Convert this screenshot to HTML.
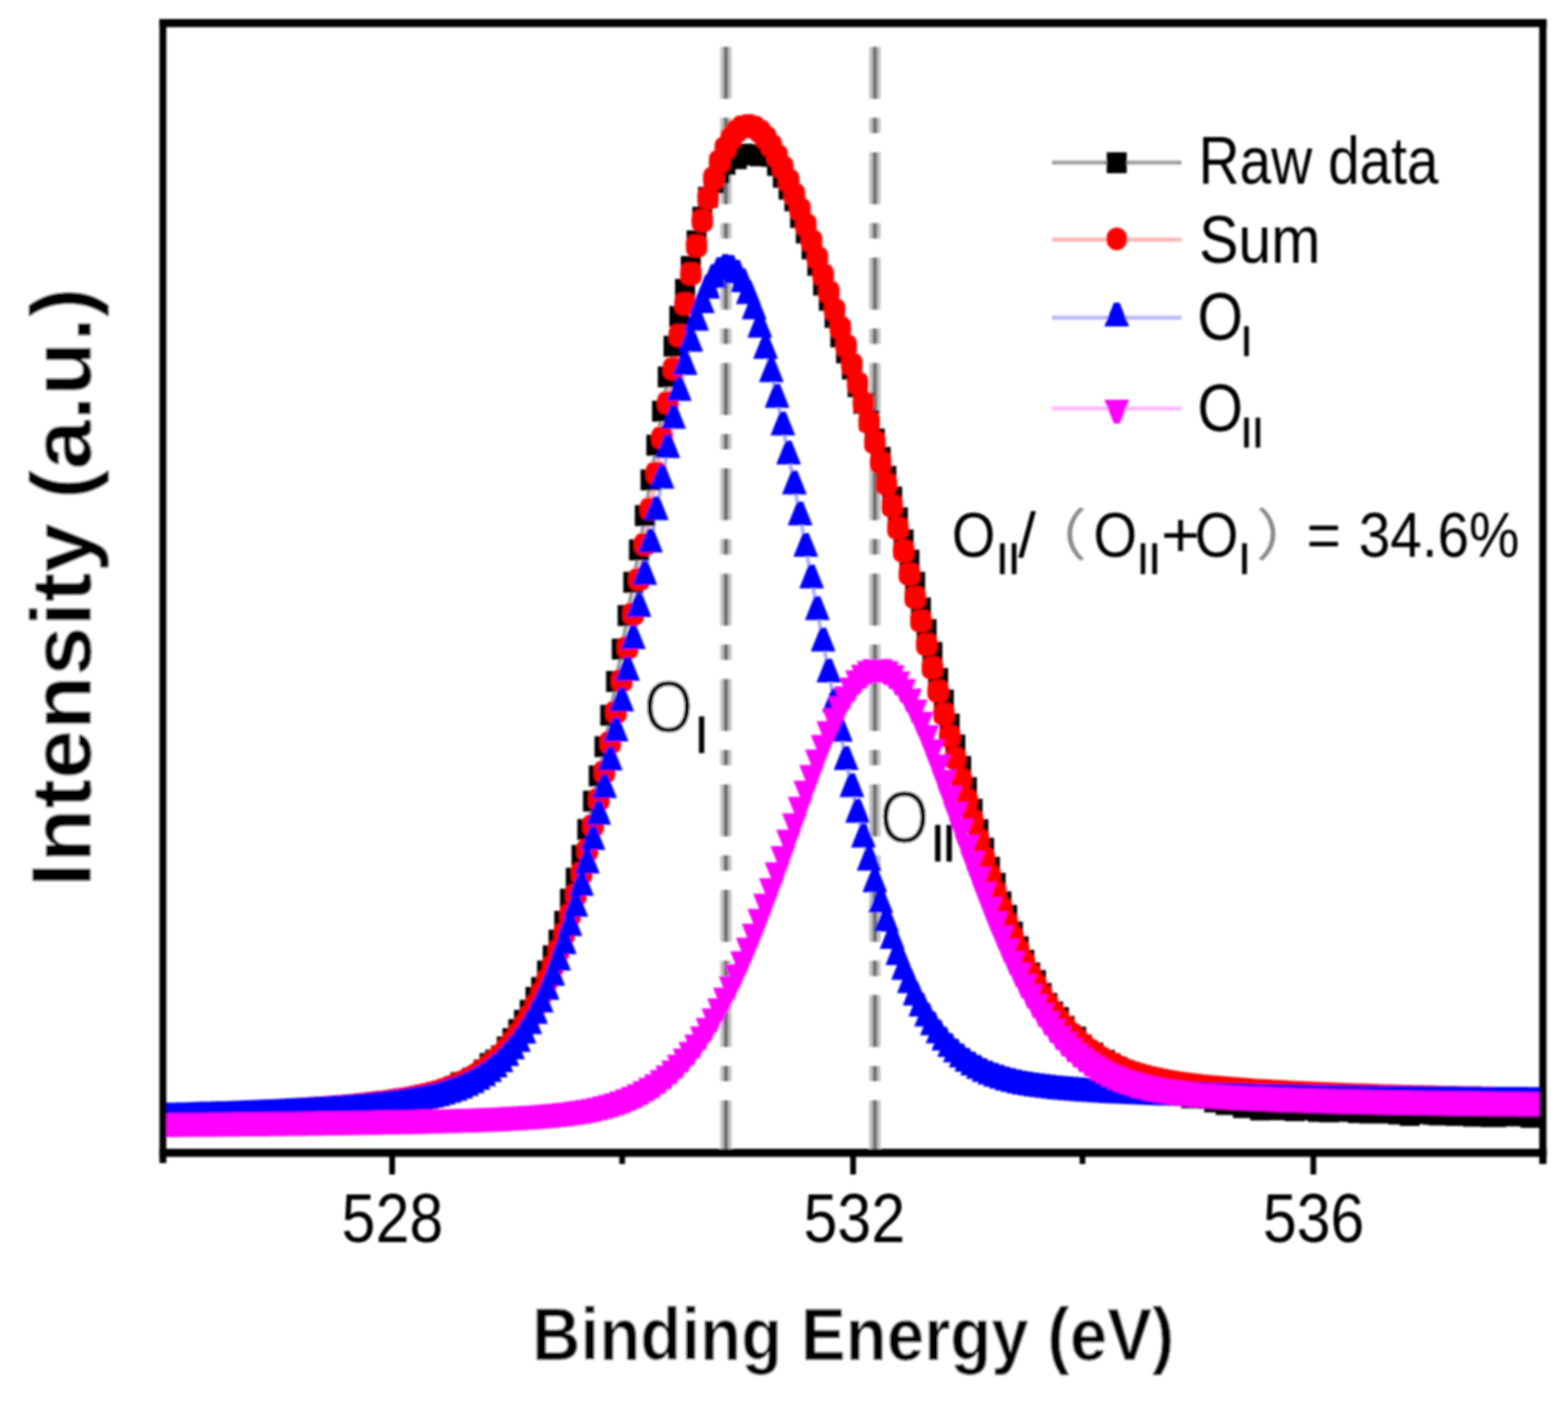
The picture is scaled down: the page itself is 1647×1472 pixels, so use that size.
<!DOCTYPE html><html><head><meta charset="utf-8"><title>XPS O 1s spectrum</title><style>html,body{margin:0;padding:0;background:#fff;overflow:hidden}svg{display:block}</style></head><body>
<svg width="1647" height="1472" viewBox="0 0 1647 1472">
<defs><clipPath id="pa"><rect x="172" y="26" width="1448" height="1184"/></clipPath><filter id="bl" filterUnits="userSpaceOnUse" x="0" y="0" width="1647" height="1472"><feGaussianBlur stdDeviation="1.2"/></filter></defs>
<rect width="1647" height="1472" fill="#fff"/>
<g filter="url(#bl)">
<g clip-path="url(#pa)" fill="none" stroke-dasharray="54.5 20 16 20.2">
<line x1="762.5" y1="49.3" x2="762.5" y2="1215" stroke="#c4c4c4" stroke-width="12"/>
<line x1="762.5" y1="49.3" x2="762.5" y2="1215" stroke="#6e6e6e" stroke-width="4.5"/>
<line x1="919.0" y1="49.3" x2="919.0" y2="1215" stroke="#c4c4c4" stroke-width="12"/>
<line x1="919.0" y1="49.3" x2="919.0" y2="1215" stroke="#6e6e6e" stroke-width="4.5"/>
</g>
<g clip-path="url(#pa)"><g>
<polyline fill="none" stroke="#9a9a9a" stroke-width="4" stroke-linejoin="round" points="145.6,1178.6 151.7,1175.8 157.7,1176.2 163.8,1176.5 169.8,1174.9 175.8,1175.6 181.9,1175.4 187.9,1173.1 194,1176.2 200,1175.5 206,1173.7 212.1,1174.1 218.1,1174.6 224.2,1173.4 230.2,1173.2 236.2,1171.5 242.3,1173.6 248.3,1172.8 254.4,1172.7 260.4,1170.2 266.5,1173.7 272.5,1171.6 278.5,1170.6 284.6,1173.2 290.6,1170.3 296.7,1168.3 302.7,1169.2 308.7,1166.5 314.8,1170.1 320.8,1167.9 326.9,1167.1 332.9,1168.8 339,1165.1 345,1167.2 351,1163.6 357.1,1164.8 363.1,1163.6 369.2,1166.2 375.2,1165.9 381.2,1162.8 387.3,1163.5 393.3,1161.6 399.4,1161.7 405.4,1159.3 411.5,1157.3 417.5,1156.2 423.5,1157.8 429.6,1158.8 435.6,1155.2 441.7,1152.9 447.7,1154.3 453.7,1150.7 459.8,1148.7 465.8,1146.9 471.9,1144.3 477.9,1141.6 483.9,1137.5 490,1136.8 496,1132.7 502.1,1130.4 508.1,1124.2 514.2,1117.4 520.2,1113.8 526.2,1109.6 532.3,1099.9 538.3,1091.2 544.4,1081.8 550.4,1071.9 556.4,1061.6 562.5,1048.1 568.5,1037.5 574.6,1020.3 580.6,1004.2 586.7,987.7 592.7,968 598.7,944.8 604.8,922.7 610.8,898.8 616.9,871.5 622.9,841.8 628.9,815.3 635,784.6 641,751.6 647.1,716.1 653.1,681.9 659.2,646.7 665.2,611.7 671.2,577.8 677.3,541.8 683.3,504.3 689.4,467.8 695.4,432.1 701.4,396 707.5,363.7 713.5,332.5 719.6,304 725.6,280 731.7,253 737.7,228.3 743.7,207.3 749.8,192.2 755.8,181.5 761.9,172.7 767.9,165.7 773.9,166.7 780,162 786,162.8 792.1,162.6 798.1,163.7 804.1,161.5 810.2,164.3 816.2,173.8 822.3,186.3 828.3,198.8 834.4,210.9 840.4,228.4 846.4,244.8 852.5,261.4 858.5,278.8 864.6,299.6 870.6,315.4 876.6,333.4 882.7,354.1 888.7,370.8 894.8,387.8 900.8,406.3 906.9,423.8 912.9,441.9 918.9,461.2 925,480.5 931,500.4 937.1,522.2 943.1,544 949.1,567.3 955.2,588.6 961.2,611.8 967.3,638.7 973.3,661.6 979.4,685.5 985.4,712.7 991.4,735.5 997.5,760.7 1003.5,782.8 1009.6,805.2 1015.6,827.5 1021.6,850.3 1027.7,871.7 1033.7,891.2 1039.8,911.2 1045.8,928.1 1051.9,947.4 1057.9,961.7 1063.9,979.2 1070,994.8 1076,1008.9 1082.1,1022.3 1088.1,1030.2 1094.1,1043.8 1100.2,1054.3 1106.2,1063.2 1112.3,1069.2 1118.3,1078.6 1124.3,1087.4 1130.4,1089.8 1136.4,1098 1142.5,1104 1148.5,1106.4 1154.6,1112.2 1160.6,1114 1166.6,1117.8 1172.7,1120.9 1178.7,1124.9 1184.8,1127.1 1190.8,1131.2 1196.8,1131.8 1202.9,1135.4 1208.9,1139.2 1215,1141.1 1221,1141.1 1227.1,1145.6 1233.1,1146.2 1239.1,1149.1 1245.2,1150.9 1251.2,1153.4 1257.3,1153.4 1263.3,1152.3 1269.3,1154.1 1275.4,1157.8 1281.4,1157.8 1287.5,1160.6 1293.5,1160.6 1299.6,1160.5 1305.6,1163.7 1311.6,1162 1317.7,1160.9 1323.7,1166.2 1329.8,1161.8 1335.8,1165.2 1341.8,1165.9 1347.9,1165.3 1353.9,1163.4 1360,1166.9 1366,1164.3 1372.1,1164.7 1378.1,1166.1 1384.1,1167.8 1390.2,1167.4 1396.2,1168.3 1402.3,1167 1408.3,1167.6 1414.3,1166.6 1420.4,1167.8 1426.4,1169.1 1432.5,1168.3 1438.5,1169.4 1444.5,1168.3 1450.6,1168.5 1456.6,1169.4 1462.7,1169.3 1468.7,1170.4 1474.8,1170.1 1480.8,1172.1 1486.8,1169.9 1492.9,1170.1 1498.9,1169.2 1505,1170.7 1511,1171.6 1517,1170 1523.1,1171 1529.1,1172 1535.2,1171.1 1541.2,1170.8 1547.3,1172.7 1553.3,1171.7 1559.3,1172.2 1565.4,1173.3 1571.4,1173.3 1577.5,1171.6 1583.5,1171.5 1589.5,1172.6 1595.6,1172.2 1601.6,1170.2 1607.7,1174.1 1613.7,1172.6 1619.8,1173.6 1625.8,1171.4 1631.8,1174.4 1637.9,1172.3 1643.9,1172.9"/>
<polyline fill="none" stroke="#ffb0b0" stroke-width="4" stroke-linejoin="round" points="145.6,1172.7 151.7,1172.5 157.7,1172.4 163.8,1172.2 169.8,1172 175.8,1171.8 181.9,1171.6 187.9,1171.4 194,1171.2 200,1171 206,1170.8 212.1,1170.6 218.1,1170.4 224.2,1170.1 230.2,1169.9 236.2,1169.7 242.3,1169.4 248.3,1169.1 254.4,1168.9 260.4,1168.6 266.5,1168.3 272.5,1168 278.5,1167.7 284.6,1167.4 290.6,1167 296.7,1166.7 302.7,1166.3 308.7,1166 314.8,1165.6 320.8,1165.2 326.9,1164.8 332.9,1164.3 339,1163.9 345,1163.4 351,1162.9 357.1,1162.4 363.1,1161.9 369.2,1161.4 375.2,1160.8 381.2,1160.2 387.3,1159.5 393.3,1158.8 399.4,1158.1 405.4,1157.4 411.5,1156.5 417.5,1155.6 423.5,1154.7 429.6,1153.7 435.6,1152.6 441.7,1151.3 447.7,1150 453.7,1148.5 459.8,1146.9 465.8,1145.1 471.9,1143.1 477.9,1140.8 483.9,1138.3 490,1135.4 496,1132.2 502.1,1128.6 508.1,1124.5 514.2,1120 520.2,1114.8 526.2,1109 532.3,1102.5 538.3,1095.3 544.4,1087.1 550.4,1078 556.4,1067.9 562.5,1056.6 568.5,1044.2 574.6,1030.5 580.6,1015.4 586.7,999 592.7,981 598.7,961.5 604.8,940.4 610.8,917.7 616.9,893.4 622.9,867.5 628.9,840 635,810.9 641,780.3 647.1,748.3 653.1,715 659.2,680.6 665.2,645.1 671.2,608.8 677.3,571.9 683.3,534.7 689.4,497.3 695.4,460.1 701.4,423.3 707.5,387.4 713.5,352.6 719.6,319.3 725.6,287.8 731.7,258.6 737.7,231.9 743.7,208 749.8,187.2 755.8,169.7 761.9,155.7 767.9,145 773.9,137.6 780,133.3 786,132.1 792.1,133.7 798.1,137.9 804.1,144.5 810.2,153.3 816.2,163.9 822.3,176.1 828.3,189.7 834.4,204.4 840.4,220 846.4,236.5 852.5,253.5 858.5,271 864.6,288.9 870.6,307.1 876.6,325.7 882.7,344.5 888.7,363.6 894.8,383.1 900.8,402.9 906.9,423.2 912.9,443.8 918.9,464.9 925,486.6 931,508.8 937.1,531.7 943.1,555.1 949.1,579 955.2,603.3 961.2,627.8 967.3,652.5 973.3,677.2 979.4,701.8 985.4,726.2 991.4,750.2 997.5,773.8 1003.5,796.9 1009.6,819.3 1015.6,841.1 1021.6,862.2 1027.7,882.5 1033.7,901.9 1039.8,920.4 1045.8,938.1 1051.9,954.8 1057.9,970.6 1063.9,985.4 1070,999.3 1076,1012.3 1082.1,1024.4 1088.1,1035.6 1094.1,1045.9 1100.2,1055.5 1106.2,1064.2 1112.3,1072.2 1118.3,1079.5 1124.3,1086.1 1130.4,1092.1 1136.4,1097.5 1142.5,1102.4 1148.5,1106.8 1154.6,1110.8 1160.6,1114.4 1166.6,1117.5 1172.7,1120.4 1178.7,1123 1184.8,1125.2 1190.8,1127.3 1196.8,1129.1 1202.9,1130.8 1208.9,1132.3 1215,1133.6 1221,1134.8 1227.1,1136 1233.1,1137 1239.1,1137.9 1245.2,1138.7 1251.2,1139.5 1257.3,1140.2 1263.3,1140.9 1269.3,1141.5 1275.4,1142.1 1281.4,1142.6 1287.5,1143.1 1293.5,1143.6 1299.6,1144.1 1305.6,1144.5 1311.6,1145 1317.7,1145.4 1323.7,1145.7 1329.8,1146.1 1335.8,1146.5 1341.8,1146.8 1347.9,1147.1 1353.9,1147.4 1360,1147.7 1366,1148 1372.1,1148.3 1378.1,1148.6 1384.1,1148.8 1390.2,1149.1 1396.2,1149.3 1402.3,1149.6 1408.3,1149.8 1414.3,1150 1420.4,1150.2 1426.4,1150.4 1432.5,1150.6 1438.5,1150.8 1444.5,1151 1450.6,1151.2 1456.6,1151.4 1462.7,1151.5 1468.7,1151.7 1474.8,1151.9 1480.8,1152 1486.8,1152.2 1492.9,1152.3 1498.9,1152.5 1505,1152.6 1511,1152.8 1517,1152.9 1523.1,1153 1529.1,1153.2 1535.2,1153.3 1541.2,1153.4 1547.3,1153.5 1553.3,1153.6 1559.3,1153.7 1565.4,1153.8 1571.4,1154 1577.5,1154.1 1583.5,1154.2 1589.5,1154.3 1595.6,1154.4 1601.6,1154.4 1607.7,1154.5 1613.7,1154.6 1619.8,1154.7 1625.8,1154.8 1631.8,1154.9 1637.9,1155 1643.9,1155"/>
<polyline fill="none" stroke="#b0b0ff" stroke-width="4" stroke-linejoin="round" points="145.6,1174.8 151.7,1174.7 157.7,1174.6 163.8,1174.4 169.8,1174.3 175.8,1174.1 181.9,1174 187.9,1173.8 194,1173.7 200,1173.5 206,1173.3 212.1,1173.1 218.1,1173 224.2,1172.8 230.2,1172.6 236.2,1172.4 242.3,1172.2 248.3,1171.9 254.4,1171.7 260.4,1171.5 266.5,1171.2 272.5,1171 278.5,1170.7 284.6,1170.5 290.6,1170.2 296.7,1169.9 302.7,1169.6 308.7,1169.3 314.8,1169 320.8,1168.7 326.9,1168.3 332.9,1168 339,1167.6 345,1167.2 351,1166.8 357.1,1166.4 363.1,1165.9 369.2,1165.5 375.2,1165 381.2,1164.5 387.3,1163.9 393.3,1163.3 399.4,1162.7 405.4,1162 411.5,1161.3 417.5,1160.5 423.5,1159.7 429.6,1158.8 435.6,1157.8 441.7,1156.7 447.7,1155.5 453.7,1154.2 459.8,1152.7 465.8,1151 471.9,1149.1 477.9,1147 483.9,1144.7 490,1142 496,1139 502.1,1135.6 508.1,1131.7 514.2,1127.3 520.2,1122.4 526.2,1116.9 532.3,1110.6 538.3,1103.6 544.4,1095.7 550.4,1086.9 556.4,1077.1 562.5,1066.2 568.5,1054.2 574.6,1040.9 580.6,1026.3 586.7,1010.3 592.7,992.9 598.7,974 604.8,953.7 610.8,931.7 616.9,908.3 622.9,883.4 628.9,857 635,829.1 641,800 647.1,769.6 653.1,738.1 659.2,705.7 665.2,672.5 671.2,638.8 677.3,604.9 683.3,570.9 689.4,537.1 695.4,504 701.4,471.8 707.5,440.9 713.5,411.7 719.6,384.6 725.6,359.9 731.7,338.1 737.7,319.4 743.7,304.3 749.8,293 755.8,285.7 761.9,282.6 767.9,283.6 773.9,288.6 780,297.4 786,310 792.1,326 798.1,345.2 804.1,367.4 810.2,392.1 816.2,419.1 822.3,448 828.3,478.4 834.4,510 840.4,542.5 846.4,575.5 852.5,608.8 858.5,642 864.6,674.9 870.6,707.4 876.6,739 882.7,769.8 888.7,799.5 894.8,828 900.8,855.1 906.9,880.9 912.9,905.3 918.9,928.1 925,949.4 931,969.3 937.1,987.6 943.1,1004.5 949.1,1020 955.2,1034.1 961.2,1046.9 967.3,1058.5 973.3,1069 979.4,1078.3 985.4,1086.7 991.4,1094.2 997.5,1100.9 1003.5,1106.7 1009.6,1111.9 1015.6,1116.5 1021.6,1120.6 1027.7,1124.1 1033.7,1127.2 1039.8,1129.9 1045.8,1132.3 1051.9,1134.3 1057.9,1136.2 1063.9,1137.8 1070,1139.2 1076,1140.4 1082.1,1141.5 1088.1,1142.5 1094.1,1143.3 1100.2,1144.1 1106.2,1144.8 1112.3,1145.5 1118.3,1146 1124.3,1146.6 1130.4,1147.1 1136.4,1147.5 1142.5,1147.9 1148.5,1148.3 1154.6,1148.7 1160.6,1149 1166.6,1149.4 1172.7,1149.7 1178.7,1150 1184.8,1150.3 1190.8,1150.5 1196.8,1150.8 1202.9,1151 1208.9,1151.3 1215,1151.5 1221,1151.7 1227.1,1151.9 1233.1,1152.1 1239.1,1152.3 1245.2,1152.5 1251.2,1152.7 1257.3,1152.9 1263.3,1153.1 1269.3,1153.2 1275.4,1153.4 1281.4,1153.5 1287.5,1153.7 1293.5,1153.8 1299.6,1154 1305.6,1154.1 1311.6,1154.2 1317.7,1154.4 1323.7,1154.5 1329.8,1154.6 1335.8,1154.7 1341.8,1154.8 1347.9,1154.9 1353.9,1155 1360,1155.1 1366,1155.2 1372.1,1155.3 1378.1,1155.4 1384.1,1155.5 1390.2,1155.6 1396.2,1155.7 1402.3,1155.8 1408.3,1155.9 1414.3,1155.9 1420.4,1156 1426.4,1156.1 1432.5,1156.2 1438.5,1156.2 1444.5,1156.3 1450.6,1156.4 1456.6,1156.4 1462.7,1156.5 1468.7,1156.6 1474.8,1156.6 1480.8,1156.7 1486.8,1156.8 1492.9,1156.8 1498.9,1156.9 1505,1156.9 1511,1157 1517,1157 1523.1,1157.1 1529.1,1157.1 1535.2,1157.2 1541.2,1157.2 1547.3,1157.3 1553.3,1157.3 1559.3,1157.4 1565.4,1157.4 1571.4,1157.4 1577.5,1157.5 1583.5,1157.5 1589.5,1157.6 1595.6,1157.6 1601.6,1157.6 1607.7,1157.7 1613.7,1157.7 1619.8,1157.7 1625.8,1157.8 1631.8,1157.8 1637.9,1157.8 1643.9,1157.9"/>
<polyline fill="none" stroke="#ffb0ff" stroke-width="4" stroke-linejoin="round" points="145.6,1179.4 151.7,1179.4 157.7,1179.4 163.8,1179.3 169.8,1179.3 175.8,1179.2 181.9,1179.2 187.9,1179.2 194,1179.1 200,1179.1 206,1179 212.1,1179 218.1,1178.9 224.2,1178.9 230.2,1178.8 236.2,1178.8 242.3,1178.7 248.3,1178.7 254.4,1178.6 260.4,1178.6 266.5,1178.5 272.5,1178.5 278.5,1178.4 284.6,1178.3 290.6,1178.3 296.7,1178.2 302.7,1178.1 308.7,1178.1 314.8,1178 320.8,1177.9 326.9,1177.8 332.9,1177.8 339,1177.7 345,1177.6 351,1177.5 357.1,1177.4 363.1,1177.3 369.2,1177.3 375.2,1177.2 381.2,1177.1 387.3,1177 393.3,1176.9 399.4,1176.8 405.4,1176.6 411.5,1176.5 417.5,1176.4 423.5,1176.3 429.6,1176.2 435.6,1176 441.7,1175.9 447.7,1175.7 453.7,1175.6 459.8,1175.4 465.8,1175.3 471.9,1175.1 477.9,1174.9 483.9,1174.8 490,1174.6 496,1174.4 502.1,1174.2 508.1,1173.9 514.2,1173.7 520.2,1173.5 526.2,1173.2 532.3,1172.9 538.3,1172.6 544.4,1172.3 550.4,1172 556.4,1171.6 562.5,1171.2 568.5,1170.8 574.6,1170.3 580.6,1169.8 586.7,1169.2 592.7,1168.6 598.7,1167.9 604.8,1167.1 610.8,1166.2 616.9,1165.3 622.9,1164.2 628.9,1162.9 635,1161.5 641,1160 647.1,1158.2 653.1,1156.3 659.2,1154 665.2,1151.5 671.2,1148.7 677.3,1145.6 683.3,1142.1 689.4,1138.2 695.4,1133.8 701.4,1129 707.5,1123.7 713.5,1117.8 719.6,1111.3 725.6,1104.2 731.7,1096.5 737.7,1088 743.7,1078.9 749.8,1069.1 755.8,1058.5 761.9,1047.2 767.9,1035.1 773.9,1022.4 780,1008.9 786,994.7 792.1,979.9 798.1,964.5 804.1,948.6 810.2,932.2 816.2,915.4 822.3,898.4 828.3,881.2 834.4,863.9 840.4,846.7 846.4,829.8 852.5,813.2 858.5,797.1 864.6,781.8 870.6,767.3 876.6,753.8 882.7,741.6 888.7,730.8 894.8,721.4 900.8,713.8 906.9,708 912.9,704 918.9,702 925,702.1 931,704.3 937.1,708.6 943.1,714.9 949.1,723.1 955.2,733 961.2,744.5 967.3,757.4 973.3,771.4 979.4,786.5 985.4,802.3 991.4,818.6 997.5,835.5 1003.5,852.5 1009.6,869.7 1015.6,886.8 1021.6,903.7 1027.7,920.3 1033.7,936.5 1039.8,952.3 1045.8,967.4 1051.9,982 1057.9,995.9 1063.9,1009.1 1070,1021.5 1076,1033.2 1082.1,1044.1 1088.1,1054.3 1094.1,1063.7 1100.2,1072.4 1106.2,1080.4 1112.3,1087.8 1118.3,1094.4 1124.3,1100.5 1130.4,1106 1136.4,1110.9 1142.5,1115.4 1148.5,1119.4 1154.6,1123 1160.6,1126.2 1166.6,1129 1172.7,1131.5 1178.7,1133.8 1184.8,1135.8 1190.8,1137.5 1196.8,1139.1 1202.9,1140.5 1208.9,1141.8 1215,1142.9 1221,1143.8 1227.1,1144.7 1233.1,1145.5 1239.1,1146.2 1245.2,1146.9 1251.2,1147.5 1257.3,1148 1263.3,1148.5 1269.3,1148.9 1275.4,1149.3 1281.4,1149.7 1287.5,1150.1 1293.5,1150.4 1299.6,1150.7 1305.6,1151 1311.6,1151.3 1317.7,1151.6 1323.7,1151.8 1329.8,1152.1 1335.8,1152.3 1341.8,1152.5 1347.9,1152.7 1353.9,1152.9 1360,1153.1 1366,1153.3 1372.1,1153.5 1378.1,1153.7 1384.1,1153.8 1390.2,1154 1396.2,1154.2 1402.3,1154.3 1408.3,1154.4 1414.3,1154.6 1420.4,1154.7 1426.4,1154.8 1432.5,1155 1438.5,1155.1 1444.5,1155.2 1450.6,1155.3 1456.6,1155.4 1462.7,1155.5 1468.7,1155.6 1474.8,1155.7 1480.8,1155.8 1486.8,1155.9 1492.9,1156 1498.9,1156.1 1505,1156.2 1511,1156.3 1517,1156.3 1523.1,1156.4 1529.1,1156.5 1535.2,1156.6 1541.2,1156.6 1547.3,1156.7 1553.3,1156.8 1559.3,1156.8 1565.4,1156.9 1571.4,1157 1577.5,1157 1583.5,1157.1 1589.5,1157.1 1595.6,1157.2 1601.6,1157.2 1607.7,1157.3 1613.7,1157.3 1619.8,1157.4 1625.8,1157.4 1631.8,1157.5 1637.9,1157.5 1643.9,1157.6"/>
<path fill="#000" d="M135.1 1167.6h21v22h-21zM141.2 1164.8h21v22h-21zM147.2 1165.2h21v22h-21zM153.3 1165.5h21v22h-21zM159.3 1163.9h21v22h-21zM165.3 1164.6h21v22h-21zM171.4 1164.4h21v22h-21zM177.4 1162.1h21v22h-21zM183.5 1165.2h21v22h-21zM189.5 1164.5h21v22h-21zM195.5 1162.7h21v22h-21zM201.6 1163.1h21v22h-21zM207.6 1163.6h21v22h-21zM213.7 1162.4h21v22h-21zM219.7 1162.2h21v22h-21zM225.7 1160.5h21v22h-21zM231.8 1162.6h21v22h-21zM237.8 1161.8h21v22h-21zM243.9 1161.7h21v22h-21zM249.9 1159.2h21v22h-21zM256 1162.7h21v22h-21zM262 1160.6h21v22h-21zM268 1159.6h21v22h-21zM274.1 1162.2h21v22h-21zM280.1 1159.3h21v22h-21zM286.2 1157.3h21v22h-21zM292.2 1158.2h21v22h-21zM298.2 1155.5h21v22h-21zM304.3 1159.1h21v22h-21zM310.3 1156.9h21v22h-21zM316.4 1156.1h21v22h-21zM322.4 1157.8h21v22h-21zM328.5 1154.1h21v22h-21zM334.5 1156.2h21v22h-21zM340.5 1152.6h21v22h-21zM346.6 1153.8h21v22h-21zM352.6 1152.6h21v22h-21zM358.7 1155.2h21v22h-21zM364.7 1154.9h21v22h-21zM370.7 1151.8h21v22h-21zM376.8 1152.5h21v22h-21zM382.8 1150.6h21v22h-21zM388.9 1150.7h21v22h-21zM394.9 1148.3h21v22h-21zM401 1146.3h21v22h-21zM407 1145.2h21v22h-21zM413 1146.8h21v22h-21zM419.1 1147.8h21v22h-21zM425.1 1144.2h21v22h-21zM431.2 1141.9h21v22h-21zM437.2 1143.3h21v22h-21zM443.2 1139.7h21v22h-21zM449.3 1137.7h21v22h-21zM455.3 1135.9h21v22h-21zM461.4 1133.3h21v22h-21zM467.4 1130.6h21v22h-21zM473.4 1126.5h21v22h-21zM479.5 1125.8h21v22h-21zM485.5 1121.7h21v22h-21zM491.6 1119.4h21v22h-21zM497.6 1113.2h21v22h-21zM503.7 1106.4h21v22h-21zM509.7 1102.8h21v22h-21zM515.7 1098.6h21v22h-21zM521.8 1088.9h21v22h-21zM527.8 1080.2h21v22h-21zM533.9 1070.8h21v22h-21zM539.9 1060.9h21v22h-21zM545.9 1050.6h21v22h-21zM552 1037.1h21v22h-21zM558 1026.5h21v22h-21zM564.1 1009.3h21v22h-21zM570.1 993.2h21v22h-21zM576.2 976.7h21v22h-21zM582.2 957h21v22h-21zM588.2 933.8h21v22h-21zM594.3 911.7h21v22h-21zM600.3 887.8h21v22h-21zM606.4 860.5h21v22h-21zM612.4 830.8h21v22h-21zM618.4 804.3h21v22h-21zM624.5 773.6h21v22h-21zM630.5 740.6h21v22h-21zM636.6 705.1h21v22h-21zM642.6 670.9h21v22h-21zM648.7 635.7h21v22h-21zM654.7 600.7h21v22h-21zM660.7 566.8h21v22h-21zM666.8 530.8h21v22h-21zM672.8 493.3h21v22h-21zM678.9 456.8h21v22h-21zM684.9 421.1h21v22h-21zM690.9 385h21v22h-21zM697 352.7h21v22h-21zM703 321.5h21v22h-21zM709.1 293h21v22h-21zM715.1 269h21v22h-21zM721.2 242h21v22h-21zM727.2 217.3h21v22h-21zM733.2 196.3h21v22h-21zM739.3 181.2h21v22h-21zM745.3 170.5h21v22h-21zM751.4 161.7h21v22h-21zM757.4 154.7h21v22h-21zM763.4 155.7h21v22h-21zM769.5 151h21v22h-21zM775.5 151.8h21v22h-21zM781.6 151.6h21v22h-21zM787.6 152.7h21v22h-21zM793.6 150.5h21v22h-21zM799.7 153.3h21v22h-21zM805.7 162.8h21v22h-21zM811.8 175.3h21v22h-21zM817.8 187.8h21v22h-21zM823.9 199.9h21v22h-21zM829.9 217.4h21v22h-21zM835.9 233.8h21v22h-21zM842 250.4h21v22h-21zM848 267.8h21v22h-21zM854.1 288.6h21v22h-21zM860.1 304.4h21v22h-21zM866.1 322.4h21v22h-21zM872.2 343.1h21v22h-21zM878.2 359.8h21v22h-21zM884.3 376.8h21v22h-21zM890.3 395.3h21v22h-21zM896.4 412.8h21v22h-21zM902.4 430.9h21v22h-21zM908.4 450.2h21v22h-21zM914.5 469.5h21v22h-21zM920.5 489.4h21v22h-21zM926.6 511.2h21v22h-21zM932.6 533h21v22h-21zM938.6 556.3h21v22h-21zM944.7 577.6h21v22h-21zM950.7 600.8h21v22h-21zM956.8 627.7h21v22h-21zM962.8 650.6h21v22h-21zM968.9 674.5h21v22h-21zM974.9 701.7h21v22h-21zM980.9 724.5h21v22h-21zM987 749.7h21v22h-21zM993 771.8h21v22h-21zM999.1 794.2h21v22h-21zM1005.1 816.5h21v22h-21zM1011.1 839.3h21v22h-21zM1017.2 860.7h21v22h-21zM1023.2 880.2h21v22h-21zM1029.3 900.2h21v22h-21zM1035.3 917.1h21v22h-21zM1041.4 936.4h21v22h-21zM1047.4 950.7h21v22h-21zM1053.4 968.2h21v22h-21zM1059.5 983.8h21v22h-21zM1065.5 997.9h21v22h-21zM1071.6 1011.3h21v22h-21zM1077.6 1019.2h21v22h-21zM1083.6 1032.8h21v22h-21zM1089.7 1043.3h21v22h-21zM1095.7 1052.2h21v22h-21zM1101.8 1058.2h21v22h-21zM1107.8 1067.6h21v22h-21zM1113.8 1076.4h21v22h-21zM1119.9 1078.8h21v22h-21zM1125.9 1087h21v22h-21zM1132 1093h21v22h-21zM1138 1095.4h21v22h-21zM1144.1 1101.2h21v22h-21zM1150.1 1103h21v22h-21zM1156.1 1106.8h21v22h-21zM1162.2 1109.9h21v22h-21zM1168.2 1113.9h21v22h-21zM1174.3 1116.1h21v22h-21zM1180.3 1120.2h21v22h-21zM1186.3 1120.8h21v22h-21zM1192.4 1124.4h21v22h-21zM1198.4 1128.2h21v22h-21zM1204.5 1130.1h21v22h-21zM1210.5 1130.1h21v22h-21zM1216.6 1134.6h21v22h-21zM1222.6 1135.2h21v22h-21zM1228.6 1138.1h21v22h-21zM1234.7 1139.9h21v22h-21zM1240.7 1142.4h21v22h-21zM1246.8 1142.4h21v22h-21zM1252.8 1141.3h21v22h-21zM1258.8 1143.1h21v22h-21zM1264.9 1146.8h21v22h-21zM1270.9 1146.8h21v22h-21zM1277 1149.6h21v22h-21zM1283 1149.6h21v22h-21zM1289.1 1149.5h21v22h-21zM1295.1 1152.7h21v22h-21zM1301.1 1151h21v22h-21zM1307.2 1149.9h21v22h-21zM1313.2 1155.2h21v22h-21zM1319.3 1150.8h21v22h-21zM1325.3 1154.2h21v22h-21zM1331.3 1154.9h21v22h-21zM1337.4 1154.3h21v22h-21zM1343.4 1152.4h21v22h-21zM1349.5 1155.9h21v22h-21zM1355.5 1153.3h21v22h-21zM1361.6 1153.7h21v22h-21zM1367.6 1155.1h21v22h-21zM1373.6 1156.8h21v22h-21zM1379.7 1156.4h21v22h-21zM1385.7 1157.3h21v22h-21zM1391.8 1156h21v22h-21zM1397.8 1156.6h21v22h-21zM1403.8 1155.6h21v22h-21zM1409.9 1156.8h21v22h-21zM1415.9 1158.1h21v22h-21zM1422 1157.3h21v22h-21zM1428 1158.4h21v22h-21zM1434 1157.3h21v22h-21zM1440.1 1157.5h21v22h-21zM1446.1 1158.4h21v22h-21zM1452.2 1158.3h21v22h-21zM1458.2 1159.4h21v22h-21zM1464.3 1159.1h21v22h-21zM1470.3 1161.1h21v22h-21zM1476.3 1158.9h21v22h-21zM1482.4 1159.1h21v22h-21zM1488.4 1158.2h21v22h-21zM1494.5 1159.7h21v22h-21zM1500.5 1160.6h21v22h-21zM1506.5 1159h21v22h-21zM1512.6 1160h21v22h-21zM1518.6 1161h21v22h-21zM1524.7 1160.1h21v22h-21zM1530.7 1159.8h21v22h-21zM1536.8 1161.7h21v22h-21zM1542.8 1160.7h21v22h-21zM1548.8 1161.2h21v22h-21zM1554.9 1162.3h21v22h-21zM1560.9 1162.3h21v22h-21zM1567 1160.6h21v22h-21zM1573 1160.5h21v22h-21zM1579 1161.6h21v22h-21zM1585.1 1161.2h21v22h-21zM1591.1 1159.2h21v22h-21zM1597.2 1163.1h21v22h-21zM1603.2 1161.6h21v22h-21zM1609.3 1162.6h21v22h-21zM1615.3 1160.4h21v22h-21zM1621.3 1163.4h21v22h-21zM1627.4 1161.3h21v22h-21zM1633.4 1161.9h21v22h-21z"/>
<path fill="#f00" d="M142.9 1160.7h5.5a8.5 8.5 0 0 1 8.5 8.5v7a8.5 8.5 0 0 1 -8.5 8.5h-5.5a8.5 8.5 0 0 1 -8.5 -8.5v-7a8.5 8.5 0 0 1 8.5 -8.5zM148.9 1160.5h5.5a8.5 8.5 0 0 1 8.5 8.5v7a8.5 8.5 0 0 1 -8.5 8.5h-5.5a8.5 8.5 0 0 1 -8.5 -8.5v-7a8.5 8.5 0 0 1 8.5 -8.5zM155 1160.4h5.5a8.5 8.5 0 0 1 8.5 8.5v7a8.5 8.5 0 0 1 -8.5 8.5h-5.5a8.5 8.5 0 0 1 -8.5 -8.5v-7a8.5 8.5 0 0 1 8.5 -8.5zM161 1160.2h5.5a8.5 8.5 0 0 1 8.5 8.5v7a8.5 8.5 0 0 1 -8.5 8.5h-5.5a8.5 8.5 0 0 1 -8.5 -8.5v-7a8.5 8.5 0 0 1 8.5 -8.5zM167 1160h5.5a8.5 8.5 0 0 1 8.5 8.5v7a8.5 8.5 0 0 1 -8.5 8.5h-5.5a8.5 8.5 0 0 1 -8.5 -8.5v-7a8.5 8.5 0 0 1 8.5 -8.5zM173.1 1159.8h5.5a8.5 8.5 0 0 1 8.5 8.5v7a8.5 8.5 0 0 1 -8.5 8.5h-5.5a8.5 8.5 0 0 1 -8.5 -8.5v-7a8.5 8.5 0 0 1 8.5 -8.5zM179.1 1159.6h5.5a8.5 8.5 0 0 1 8.5 8.5v7a8.5 8.5 0 0 1 -8.5 8.5h-5.5a8.5 8.5 0 0 1 -8.5 -8.5v-7a8.5 8.5 0 0 1 8.5 -8.5zM185.2 1159.4h5.5a8.5 8.5 0 0 1 8.5 8.5v7a8.5 8.5 0 0 1 -8.5 8.5h-5.5a8.5 8.5 0 0 1 -8.5 -8.5v-7a8.5 8.5 0 0 1 8.5 -8.5zM191.2 1159.2h5.5a8.5 8.5 0 0 1 8.5 8.5v7a8.5 8.5 0 0 1 -8.5 8.5h-5.5a8.5 8.5 0 0 1 -8.5 -8.5v-7a8.5 8.5 0 0 1 8.5 -8.5zM197.2 1159h5.5a8.5 8.5 0 0 1 8.5 8.5v7a8.5 8.5 0 0 1 -8.5 8.5h-5.5a8.5 8.5 0 0 1 -8.5 -8.5v-7a8.5 8.5 0 0 1 8.5 -8.5zM203.3 1158.8h5.5a8.5 8.5 0 0 1 8.5 8.5v7a8.5 8.5 0 0 1 -8.5 8.5h-5.5a8.5 8.5 0 0 1 -8.5 -8.5v-7a8.5 8.5 0 0 1 8.5 -8.5zM209.3 1158.6h5.5a8.5 8.5 0 0 1 8.5 8.5v7a8.5 8.5 0 0 1 -8.5 8.5h-5.5a8.5 8.5 0 0 1 -8.5 -8.5v-7a8.5 8.5 0 0 1 8.5 -8.5zM215.4 1158.4h5.5a8.5 8.5 0 0 1 8.5 8.5v7a8.5 8.5 0 0 1 -8.5 8.5h-5.5a8.5 8.5 0 0 1 -8.5 -8.5v-7a8.5 8.5 0 0 1 8.5 -8.5zM221.4 1158.1h5.5a8.5 8.5 0 0 1 8.5 8.5v7a8.5 8.5 0 0 1 -8.5 8.5h-5.5a8.5 8.5 0 0 1 -8.5 -8.5v-7a8.5 8.5 0 0 1 8.5 -8.5zM227.5 1157.9h5.5a8.5 8.5 0 0 1 8.5 8.5v7a8.5 8.5 0 0 1 -8.5 8.5h-5.5a8.5 8.5 0 0 1 -8.5 -8.5v-7a8.5 8.5 0 0 1 8.5 -8.5zM233.5 1157.7h5.5a8.5 8.5 0 0 1 8.5 8.5v7a8.5 8.5 0 0 1 -8.5 8.5h-5.5a8.5 8.5 0 0 1 -8.5 -8.5v-7a8.5 8.5 0 0 1 8.5 -8.5zM239.5 1157.4h5.5a8.5 8.5 0 0 1 8.5 8.5v7a8.5 8.5 0 0 1 -8.5 8.5h-5.5a8.5 8.5 0 0 1 -8.5 -8.5v-7a8.5 8.5 0 0 1 8.5 -8.5zM245.6 1157.1h5.5a8.5 8.5 0 0 1 8.5 8.5v7a8.5 8.5 0 0 1 -8.5 8.5h-5.5a8.5 8.5 0 0 1 -8.5 -8.5v-7a8.5 8.5 0 0 1 8.5 -8.5zM251.6 1156.9h5.5a8.5 8.5 0 0 1 8.5 8.5v7a8.5 8.5 0 0 1 -8.5 8.5h-5.5a8.5 8.5 0 0 1 -8.5 -8.5v-7a8.5 8.5 0 0 1 8.5 -8.5zM257.7 1156.6h5.5a8.5 8.5 0 0 1 8.5 8.5v7a8.5 8.5 0 0 1 -8.5 8.5h-5.5a8.5 8.5 0 0 1 -8.5 -8.5v-7a8.5 8.5 0 0 1 8.5 -8.5zM263.7 1156.3h5.5a8.5 8.5 0 0 1 8.5 8.5v7a8.5 8.5 0 0 1 -8.5 8.5h-5.5a8.5 8.5 0 0 1 -8.5 -8.5v-7a8.5 8.5 0 0 1 8.5 -8.5zM269.7 1156h5.5a8.5 8.5 0 0 1 8.5 8.5v7a8.5 8.5 0 0 1 -8.5 8.5h-5.5a8.5 8.5 0 0 1 -8.5 -8.5v-7a8.5 8.5 0 0 1 8.5 -8.5zM275.8 1155.7h5.5a8.5 8.5 0 0 1 8.5 8.5v7a8.5 8.5 0 0 1 -8.5 8.5h-5.5a8.5 8.5 0 0 1 -8.5 -8.5v-7a8.5 8.5 0 0 1 8.5 -8.5zM281.8 1155.4h5.5a8.5 8.5 0 0 1 8.5 8.5v7a8.5 8.5 0 0 1 -8.5 8.5h-5.5a8.5 8.5 0 0 1 -8.5 -8.5v-7a8.5 8.5 0 0 1 8.5 -8.5zM287.9 1155h5.5a8.5 8.5 0 0 1 8.5 8.5v7a8.5 8.5 0 0 1 -8.5 8.5h-5.5a8.5 8.5 0 0 1 -8.5 -8.5v-7a8.5 8.5 0 0 1 8.5 -8.5zM293.9 1154.7h5.5a8.5 8.5 0 0 1 8.5 8.5v7a8.5 8.5 0 0 1 -8.5 8.5h-5.5a8.5 8.5 0 0 1 -8.5 -8.5v-7a8.5 8.5 0 0 1 8.5 -8.5zM300 1154.3h5.5a8.5 8.5 0 0 1 8.5 8.5v7a8.5 8.5 0 0 1 -8.5 8.5h-5.5a8.5 8.5 0 0 1 -8.5 -8.5v-7a8.5 8.5 0 0 1 8.5 -8.5zM306 1154h5.5a8.5 8.5 0 0 1 8.5 8.5v7a8.5 8.5 0 0 1 -8.5 8.5h-5.5a8.5 8.5 0 0 1 -8.5 -8.5v-7a8.5 8.5 0 0 1 8.5 -8.5zM312 1153.6h5.5a8.5 8.5 0 0 1 8.5 8.5v7a8.5 8.5 0 0 1 -8.5 8.5h-5.5a8.5 8.5 0 0 1 -8.5 -8.5v-7a8.5 8.5 0 0 1 8.5 -8.5zM318.1 1153.2h5.5a8.5 8.5 0 0 1 8.5 8.5v7a8.5 8.5 0 0 1 -8.5 8.5h-5.5a8.5 8.5 0 0 1 -8.5 -8.5v-7a8.5 8.5 0 0 1 8.5 -8.5zM324.1 1152.8h5.5a8.5 8.5 0 0 1 8.5 8.5v7a8.5 8.5 0 0 1 -8.5 8.5h-5.5a8.5 8.5 0 0 1 -8.5 -8.5v-7a8.5 8.5 0 0 1 8.5 -8.5zM330.2 1152.3h5.5a8.5 8.5 0 0 1 8.5 8.5v7a8.5 8.5 0 0 1 -8.5 8.5h-5.5a8.5 8.5 0 0 1 -8.5 -8.5v-7a8.5 8.5 0 0 1 8.5 -8.5zM336.2 1151.9h5.5a8.5 8.5 0 0 1 8.5 8.5v7a8.5 8.5 0 0 1 -8.5 8.5h-5.5a8.5 8.5 0 0 1 -8.5 -8.5v-7a8.5 8.5 0 0 1 8.5 -8.5zM342.2 1151.4h5.5a8.5 8.5 0 0 1 8.5 8.5v7a8.5 8.5 0 0 1 -8.5 8.5h-5.5a8.5 8.5 0 0 1 -8.5 -8.5v-7a8.5 8.5 0 0 1 8.5 -8.5zM348.3 1150.9h5.5a8.5 8.5 0 0 1 8.5 8.5v7a8.5 8.5 0 0 1 -8.5 8.5h-5.5a8.5 8.5 0 0 1 -8.5 -8.5v-7a8.5 8.5 0 0 1 8.5 -8.5zM354.3 1150.4h5.5a8.5 8.5 0 0 1 8.5 8.5v7a8.5 8.5 0 0 1 -8.5 8.5h-5.5a8.5 8.5 0 0 1 -8.5 -8.5v-7a8.5 8.5 0 0 1 8.5 -8.5zM360.4 1149.9h5.5a8.5 8.5 0 0 1 8.5 8.5v7a8.5 8.5 0 0 1 -8.5 8.5h-5.5a8.5 8.5 0 0 1 -8.5 -8.5v-7a8.5 8.5 0 0 1 8.5 -8.5zM366.4 1149.4h5.5a8.5 8.5 0 0 1 8.5 8.5v7a8.5 8.5 0 0 1 -8.5 8.5h-5.5a8.5 8.5 0 0 1 -8.5 -8.5v-7a8.5 8.5 0 0 1 8.5 -8.5zM372.5 1148.8h5.5a8.5 8.5 0 0 1 8.5 8.5v7a8.5 8.5 0 0 1 -8.5 8.5h-5.5a8.5 8.5 0 0 1 -8.5 -8.5v-7a8.5 8.5 0 0 1 8.5 -8.5zM378.5 1148.2h5.5a8.5 8.5 0 0 1 8.5 8.5v7a8.5 8.5 0 0 1 -8.5 8.5h-5.5a8.5 8.5 0 0 1 -8.5 -8.5v-7a8.5 8.5 0 0 1 8.5 -8.5zM384.5 1147.5h5.5a8.5 8.5 0 0 1 8.5 8.5v7a8.5 8.5 0 0 1 -8.5 8.5h-5.5a8.5 8.5 0 0 1 -8.5 -8.5v-7a8.5 8.5 0 0 1 8.5 -8.5zM390.6 1146.8h5.5a8.5 8.5 0 0 1 8.5 8.5v7a8.5 8.5 0 0 1 -8.5 8.5h-5.5a8.5 8.5 0 0 1 -8.5 -8.5v-7a8.5 8.5 0 0 1 8.5 -8.5zM396.6 1146.1h5.5a8.5 8.5 0 0 1 8.5 8.5v7a8.5 8.5 0 0 1 -8.5 8.5h-5.5a8.5 8.5 0 0 1 -8.5 -8.5v-7a8.5 8.5 0 0 1 8.5 -8.5zM402.7 1145.4h5.5a8.5 8.5 0 0 1 8.5 8.5v7a8.5 8.5 0 0 1 -8.5 8.5h-5.5a8.5 8.5 0 0 1 -8.5 -8.5v-7a8.5 8.5 0 0 1 8.5 -8.5zM408.7 1144.5h5.5a8.5 8.5 0 0 1 8.5 8.5v7a8.5 8.5 0 0 1 -8.5 8.5h-5.5a8.5 8.5 0 0 1 -8.5 -8.5v-7a8.5 8.5 0 0 1 8.5 -8.5zM414.7 1143.6h5.5a8.5 8.5 0 0 1 8.5 8.5v7a8.5 8.5 0 0 1 -8.5 8.5h-5.5a8.5 8.5 0 0 1 -8.5 -8.5v-7a8.5 8.5 0 0 1 8.5 -8.5zM420.8 1142.7h5.5a8.5 8.5 0 0 1 8.5 8.5v7a8.5 8.5 0 0 1 -8.5 8.5h-5.5a8.5 8.5 0 0 1 -8.5 -8.5v-7a8.5 8.5 0 0 1 8.5 -8.5zM426.8 1141.7h5.5a8.5 8.5 0 0 1 8.5 8.5v7a8.5 8.5 0 0 1 -8.5 8.5h-5.5a8.5 8.5 0 0 1 -8.5 -8.5v-7a8.5 8.5 0 0 1 8.5 -8.5zM432.9 1140.6h5.5a8.5 8.5 0 0 1 8.5 8.5v7a8.5 8.5 0 0 1 -8.5 8.5h-5.5a8.5 8.5 0 0 1 -8.5 -8.5v-7a8.5 8.5 0 0 1 8.5 -8.5zM438.9 1139.3h5.5a8.5 8.5 0 0 1 8.5 8.5v7a8.5 8.5 0 0 1 -8.5 8.5h-5.5a8.5 8.5 0 0 1 -8.5 -8.5v-7a8.5 8.5 0 0 1 8.5 -8.5zM445 1138h5.5a8.5 8.5 0 0 1 8.5 8.5v7a8.5 8.5 0 0 1 -8.5 8.5h-5.5a8.5 8.5 0 0 1 -8.5 -8.5v-7a8.5 8.5 0 0 1 8.5 -8.5zM451 1136.5h5.5a8.5 8.5 0 0 1 8.5 8.5v7a8.5 8.5 0 0 1 -8.5 8.5h-5.5a8.5 8.5 0 0 1 -8.5 -8.5v-7a8.5 8.5 0 0 1 8.5 -8.5zM457 1134.9h5.5a8.5 8.5 0 0 1 8.5 8.5v7a8.5 8.5 0 0 1 -8.5 8.5h-5.5a8.5 8.5 0 0 1 -8.5 -8.5v-7a8.5 8.5 0 0 1 8.5 -8.5zM463.1 1133.1h5.5a8.5 8.5 0 0 1 8.5 8.5v7a8.5 8.5 0 0 1 -8.5 8.5h-5.5a8.5 8.5 0 0 1 -8.5 -8.5v-7a8.5 8.5 0 0 1 8.5 -8.5zM469.1 1131.1h5.5a8.5 8.5 0 0 1 8.5 8.5v7a8.5 8.5 0 0 1 -8.5 8.5h-5.5a8.5 8.5 0 0 1 -8.5 -8.5v-7a8.5 8.5 0 0 1 8.5 -8.5zM475.2 1128.8h5.5a8.5 8.5 0 0 1 8.5 8.5v7a8.5 8.5 0 0 1 -8.5 8.5h-5.5a8.5 8.5 0 0 1 -8.5 -8.5v-7a8.5 8.5 0 0 1 8.5 -8.5zM481.2 1126.3h5.5a8.5 8.5 0 0 1 8.5 8.5v7a8.5 8.5 0 0 1 -8.5 8.5h-5.5a8.5 8.5 0 0 1 -8.5 -8.5v-7a8.5 8.5 0 0 1 8.5 -8.5zM487.2 1123.4h5.5a8.5 8.5 0 0 1 8.5 8.5v7a8.5 8.5 0 0 1 -8.5 8.5h-5.5a8.5 8.5 0 0 1 -8.5 -8.5v-7a8.5 8.5 0 0 1 8.5 -8.5zM493.3 1120.2h5.5a8.5 8.5 0 0 1 8.5 8.5v7a8.5 8.5 0 0 1 -8.5 8.5h-5.5a8.5 8.5 0 0 1 -8.5 -8.5v-7a8.5 8.5 0 0 1 8.5 -8.5zM499.3 1116.6h5.5a8.5 8.5 0 0 1 8.5 8.5v7a8.5 8.5 0 0 1 -8.5 8.5h-5.5a8.5 8.5 0 0 1 -8.5 -8.5v-7a8.5 8.5 0 0 1 8.5 -8.5zM505.4 1112.5h5.5a8.5 8.5 0 0 1 8.5 8.5v7a8.5 8.5 0 0 1 -8.5 8.5h-5.5a8.5 8.5 0 0 1 -8.5 -8.5v-7a8.5 8.5 0 0 1 8.5 -8.5zM511.4 1108h5.5a8.5 8.5 0 0 1 8.5 8.5v7a8.5 8.5 0 0 1 -8.5 8.5h-5.5a8.5 8.5 0 0 1 -8.5 -8.5v-7a8.5 8.5 0 0 1 8.5 -8.5zM517.4 1102.8h5.5a8.5 8.5 0 0 1 8.5 8.5v7a8.5 8.5 0 0 1 -8.5 8.5h-5.5a8.5 8.5 0 0 1 -8.5 -8.5v-7a8.5 8.5 0 0 1 8.5 -8.5zM523.5 1097h5.5a8.5 8.5 0 0 1 8.5 8.5v7a8.5 8.5 0 0 1 -8.5 8.5h-5.5a8.5 8.5 0 0 1 -8.5 -8.5v-7a8.5 8.5 0 0 1 8.5 -8.5zM529.5 1090.5h5.5a8.5 8.5 0 0 1 8.5 8.5v7a8.5 8.5 0 0 1 -8.5 8.5h-5.5a8.5 8.5 0 0 1 -8.5 -8.5v-7a8.5 8.5 0 0 1 8.5 -8.5zM535.6 1083.3h5.5a8.5 8.5 0 0 1 8.5 8.5v7a8.5 8.5 0 0 1 -8.5 8.5h-5.5a8.5 8.5 0 0 1 -8.5 -8.5v-7a8.5 8.5 0 0 1 8.5 -8.5zM541.6 1075.1h5.5a8.5 8.5 0 0 1 8.5 8.5v7a8.5 8.5 0 0 1 -8.5 8.5h-5.5a8.5 8.5 0 0 1 -8.5 -8.5v-7a8.5 8.5 0 0 1 8.5 -8.5zM547.7 1066h5.5a8.5 8.5 0 0 1 8.5 8.5v7a8.5 8.5 0 0 1 -8.5 8.5h-5.5a8.5 8.5 0 0 1 -8.5 -8.5v-7a8.5 8.5 0 0 1 8.5 -8.5zM553.7 1055.9h5.5a8.5 8.5 0 0 1 8.5 8.5v7a8.5 8.5 0 0 1 -8.5 8.5h-5.5a8.5 8.5 0 0 1 -8.5 -8.5v-7a8.5 8.5 0 0 1 8.5 -8.5zM559.7 1044.6h5.5a8.5 8.5 0 0 1 8.5 8.5v7a8.5 8.5 0 0 1 -8.5 8.5h-5.5a8.5 8.5 0 0 1 -8.5 -8.5v-7a8.5 8.5 0 0 1 8.5 -8.5zM565.8 1032.2h5.5a8.5 8.5 0 0 1 8.5 8.5v7a8.5 8.5 0 0 1 -8.5 8.5h-5.5a8.5 8.5 0 0 1 -8.5 -8.5v-7a8.5 8.5 0 0 1 8.5 -8.5zM571.8 1018.5h5.5a8.5 8.5 0 0 1 8.5 8.5v7a8.5 8.5 0 0 1 -8.5 8.5h-5.5a8.5 8.5 0 0 1 -8.5 -8.5v-7a8.5 8.5 0 0 1 8.5 -8.5zM577.9 1003.4h5.5a8.5 8.5 0 0 1 8.5 8.5v7a8.5 8.5 0 0 1 -8.5 8.5h-5.5a8.5 8.5 0 0 1 -8.5 -8.5v-7a8.5 8.5 0 0 1 8.5 -8.5zM583.9 987h5.5a8.5 8.5 0 0 1 8.5 8.5v7a8.5 8.5 0 0 1 -8.5 8.5h-5.5a8.5 8.5 0 0 1 -8.5 -8.5v-7a8.5 8.5 0 0 1 8.5 -8.5zM589.9 969h5.5a8.5 8.5 0 0 1 8.5 8.5v7a8.5 8.5 0 0 1 -8.5 8.5h-5.5a8.5 8.5 0 0 1 -8.5 -8.5v-7a8.5 8.5 0 0 1 8.5 -8.5zM596 949.5h5.5a8.5 8.5 0 0 1 8.5 8.5v7a8.5 8.5 0 0 1 -8.5 8.5h-5.5a8.5 8.5 0 0 1 -8.5 -8.5v-7a8.5 8.5 0 0 1 8.5 -8.5zM602 928.4h5.5a8.5 8.5 0 0 1 8.5 8.5v7a8.5 8.5 0 0 1 -8.5 8.5h-5.5a8.5 8.5 0 0 1 -8.5 -8.5v-7a8.5 8.5 0 0 1 8.5 -8.5zM608.1 905.7h5.5a8.5 8.5 0 0 1 8.5 8.5v7a8.5 8.5 0 0 1 -8.5 8.5h-5.5a8.5 8.5 0 0 1 -8.5 -8.5v-7a8.5 8.5 0 0 1 8.5 -8.5zM614.1 881.4h5.5a8.5 8.5 0 0 1 8.5 8.5v7a8.5 8.5 0 0 1 -8.5 8.5h-5.5a8.5 8.5 0 0 1 -8.5 -8.5v-7a8.5 8.5 0 0 1 8.5 -8.5zM620.2 855.5h5.5a8.5 8.5 0 0 1 8.5 8.5v7a8.5 8.5 0 0 1 -8.5 8.5h-5.5a8.5 8.5 0 0 1 -8.5 -8.5v-7a8.5 8.5 0 0 1 8.5 -8.5zM626.2 828h5.5a8.5 8.5 0 0 1 8.5 8.5v7a8.5 8.5 0 0 1 -8.5 8.5h-5.5a8.5 8.5 0 0 1 -8.5 -8.5v-7a8.5 8.5 0 0 1 8.5 -8.5zM632.2 798.9h5.5a8.5 8.5 0 0 1 8.5 8.5v7a8.5 8.5 0 0 1 -8.5 8.5h-5.5a8.5 8.5 0 0 1 -8.5 -8.5v-7a8.5 8.5 0 0 1 8.5 -8.5zM638.3 768.3h5.5a8.5 8.5 0 0 1 8.5 8.5v7a8.5 8.5 0 0 1 -8.5 8.5h-5.5a8.5 8.5 0 0 1 -8.5 -8.5v-7a8.5 8.5 0 0 1 8.5 -8.5zM644.3 736.3h5.5a8.5 8.5 0 0 1 8.5 8.5v7a8.5 8.5 0 0 1 -8.5 8.5h-5.5a8.5 8.5 0 0 1 -8.5 -8.5v-7a8.5 8.5 0 0 1 8.5 -8.5zM650.4 703h5.5a8.5 8.5 0 0 1 8.5 8.5v7a8.5 8.5 0 0 1 -8.5 8.5h-5.5a8.5 8.5 0 0 1 -8.5 -8.5v-7a8.5 8.5 0 0 1 8.5 -8.5zM656.4 668.6h5.5a8.5 8.5 0 0 1 8.5 8.5v7a8.5 8.5 0 0 1 -8.5 8.5h-5.5a8.5 8.5 0 0 1 -8.5 -8.5v-7a8.5 8.5 0 0 1 8.5 -8.5zM662.4 633.1h5.5a8.5 8.5 0 0 1 8.5 8.5v7a8.5 8.5 0 0 1 -8.5 8.5h-5.5a8.5 8.5 0 0 1 -8.5 -8.5v-7a8.5 8.5 0 0 1 8.5 -8.5zM668.5 596.8h5.5a8.5 8.5 0 0 1 8.5 8.5v7a8.5 8.5 0 0 1 -8.5 8.5h-5.5a8.5 8.5 0 0 1 -8.5 -8.5v-7a8.5 8.5 0 0 1 8.5 -8.5zM674.5 559.9h5.5a8.5 8.5 0 0 1 8.5 8.5v7a8.5 8.5 0 0 1 -8.5 8.5h-5.5a8.5 8.5 0 0 1 -8.5 -8.5v-7a8.5 8.5 0 0 1 8.5 -8.5zM680.6 522.7h5.5a8.5 8.5 0 0 1 8.5 8.5v7a8.5 8.5 0 0 1 -8.5 8.5h-5.5a8.5 8.5 0 0 1 -8.5 -8.5v-7a8.5 8.5 0 0 1 8.5 -8.5zM686.6 485.3h5.5a8.5 8.5 0 0 1 8.5 8.5v7a8.5 8.5 0 0 1 -8.5 8.5h-5.5a8.5 8.5 0 0 1 -8.5 -8.5v-7a8.5 8.5 0 0 1 8.5 -8.5zM692.7 448.1h5.5a8.5 8.5 0 0 1 8.5 8.5v7a8.5 8.5 0 0 1 -8.5 8.5h-5.5a8.5 8.5 0 0 1 -8.5 -8.5v-7a8.5 8.5 0 0 1 8.5 -8.5zM698.7 411.3h5.5a8.5 8.5 0 0 1 8.5 8.5v7a8.5 8.5 0 0 1 -8.5 8.5h-5.5a8.5 8.5 0 0 1 -8.5 -8.5v-7a8.5 8.5 0 0 1 8.5 -8.5zM704.7 375.4h5.5a8.5 8.5 0 0 1 8.5 8.5v7a8.5 8.5 0 0 1 -8.5 8.5h-5.5a8.5 8.5 0 0 1 -8.5 -8.5v-7a8.5 8.5 0 0 1 8.5 -8.5zM710.8 340.6h5.5a8.5 8.5 0 0 1 8.5 8.5v7a8.5 8.5 0 0 1 -8.5 8.5h-5.5a8.5 8.5 0 0 1 -8.5 -8.5v-7a8.5 8.5 0 0 1 8.5 -8.5zM716.8 307.3h5.5a8.5 8.5 0 0 1 8.5 8.5v7a8.5 8.5 0 0 1 -8.5 8.5h-5.5a8.5 8.5 0 0 1 -8.5 -8.5v-7a8.5 8.5 0 0 1 8.5 -8.5zM722.9 275.8h5.5a8.5 8.5 0 0 1 8.5 8.5v7a8.5 8.5 0 0 1 -8.5 8.5h-5.5a8.5 8.5 0 0 1 -8.5 -8.5v-7a8.5 8.5 0 0 1 8.5 -8.5zM728.9 246.6h5.5a8.5 8.5 0 0 1 8.5 8.5v7a8.5 8.5 0 0 1 -8.5 8.5h-5.5a8.5 8.5 0 0 1 -8.5 -8.5v-7a8.5 8.5 0 0 1 8.5 -8.5zM734.9 219.9h5.5a8.5 8.5 0 0 1 8.5 8.5v7a8.5 8.5 0 0 1 -8.5 8.5h-5.5a8.5 8.5 0 0 1 -8.5 -8.5v-7a8.5 8.5 0 0 1 8.5 -8.5zM741 196h5.5a8.5 8.5 0 0 1 8.5 8.5v7a8.5 8.5 0 0 1 -8.5 8.5h-5.5a8.5 8.5 0 0 1 -8.5 -8.5v-7a8.5 8.5 0 0 1 8.5 -8.5zM747 175.2h5.5a8.5 8.5 0 0 1 8.5 8.5v7a8.5 8.5 0 0 1 -8.5 8.5h-5.5a8.5 8.5 0 0 1 -8.5 -8.5v-7a8.5 8.5 0 0 1 8.5 -8.5zM753.1 157.7h5.5a8.5 8.5 0 0 1 8.5 8.5v7a8.5 8.5 0 0 1 -8.5 8.5h-5.5a8.5 8.5 0 0 1 -8.5 -8.5v-7a8.5 8.5 0 0 1 8.5 -8.5zM759.1 143.7h5.5a8.5 8.5 0 0 1 8.5 8.5v7a8.5 8.5 0 0 1 -8.5 8.5h-5.5a8.5 8.5 0 0 1 -8.5 -8.5v-7a8.5 8.5 0 0 1 8.5 -8.5zM765.2 133h5.5a8.5 8.5 0 0 1 8.5 8.5v7a8.5 8.5 0 0 1 -8.5 8.5h-5.5a8.5 8.5 0 0 1 -8.5 -8.5v-7a8.5 8.5 0 0 1 8.5 -8.5zM771.2 125.6h5.5a8.5 8.5 0 0 1 8.5 8.5v7a8.5 8.5 0 0 1 -8.5 8.5h-5.5a8.5 8.5 0 0 1 -8.5 -8.5v-7a8.5 8.5 0 0 1 8.5 -8.5zM777.2 121.3h5.5a8.5 8.5 0 0 1 8.5 8.5v7a8.5 8.5 0 0 1 -8.5 8.5h-5.5a8.5 8.5 0 0 1 -8.5 -8.5v-7a8.5 8.5 0 0 1 8.5 -8.5zM783.3 120.1h5.5a8.5 8.5 0 0 1 8.5 8.5v7a8.5 8.5 0 0 1 -8.5 8.5h-5.5a8.5 8.5 0 0 1 -8.5 -8.5v-7a8.5 8.5 0 0 1 8.5 -8.5zM789.3 121.7h5.5a8.5 8.5 0 0 1 8.5 8.5v7a8.5 8.5 0 0 1 -8.5 8.5h-5.5a8.5 8.5 0 0 1 -8.5 -8.5v-7a8.5 8.5 0 0 1 8.5 -8.5zM795.4 125.9h5.5a8.5 8.5 0 0 1 8.5 8.5v7a8.5 8.5 0 0 1 -8.5 8.5h-5.5a8.5 8.5 0 0 1 -8.5 -8.5v-7a8.5 8.5 0 0 1 8.5 -8.5zM801.4 132.5h5.5a8.5 8.5 0 0 1 8.5 8.5v7a8.5 8.5 0 0 1 -8.5 8.5h-5.5a8.5 8.5 0 0 1 -8.5 -8.5v-7a8.5 8.5 0 0 1 8.5 -8.5zM807.4 141.3h5.5a8.5 8.5 0 0 1 8.5 8.5v7a8.5 8.5 0 0 1 -8.5 8.5h-5.5a8.5 8.5 0 0 1 -8.5 -8.5v-7a8.5 8.5 0 0 1 8.5 -8.5zM813.5 151.9h5.5a8.5 8.5 0 0 1 8.5 8.5v7a8.5 8.5 0 0 1 -8.5 8.5h-5.5a8.5 8.5 0 0 1 -8.5 -8.5v-7a8.5 8.5 0 0 1 8.5 -8.5zM819.5 164.1h5.5a8.5 8.5 0 0 1 8.5 8.5v7a8.5 8.5 0 0 1 -8.5 8.5h-5.5a8.5 8.5 0 0 1 -8.5 -8.5v-7a8.5 8.5 0 0 1 8.5 -8.5zM825.6 177.7h5.5a8.5 8.5 0 0 1 8.5 8.5v7a8.5 8.5 0 0 1 -8.5 8.5h-5.5a8.5 8.5 0 0 1 -8.5 -8.5v-7a8.5 8.5 0 0 1 8.5 -8.5zM831.6 192.4h5.5a8.5 8.5 0 0 1 8.5 8.5v7a8.5 8.5 0 0 1 -8.5 8.5h-5.5a8.5 8.5 0 0 1 -8.5 -8.5v-7a8.5 8.5 0 0 1 8.5 -8.5zM837.6 208h5.5a8.5 8.5 0 0 1 8.5 8.5v7a8.5 8.5 0 0 1 -8.5 8.5h-5.5a8.5 8.5 0 0 1 -8.5 -8.5v-7a8.5 8.5 0 0 1 8.5 -8.5zM843.7 224.5h5.5a8.5 8.5 0 0 1 8.5 8.5v7a8.5 8.5 0 0 1 -8.5 8.5h-5.5a8.5 8.5 0 0 1 -8.5 -8.5v-7a8.5 8.5 0 0 1 8.5 -8.5zM849.7 241.5h5.5a8.5 8.5 0 0 1 8.5 8.5v7a8.5 8.5 0 0 1 -8.5 8.5h-5.5a8.5 8.5 0 0 1 -8.5 -8.5v-7a8.5 8.5 0 0 1 8.5 -8.5zM855.8 259h5.5a8.5 8.5 0 0 1 8.5 8.5v7a8.5 8.5 0 0 1 -8.5 8.5h-5.5a8.5 8.5 0 0 1 -8.5 -8.5v-7a8.5 8.5 0 0 1 8.5 -8.5zM861.8 276.9h5.5a8.5 8.5 0 0 1 8.5 8.5v7a8.5 8.5 0 0 1 -8.5 8.5h-5.5a8.5 8.5 0 0 1 -8.5 -8.5v-7a8.5 8.5 0 0 1 8.5 -8.5zM867.9 295.1h5.5a8.5 8.5 0 0 1 8.5 8.5v7a8.5 8.5 0 0 1 -8.5 8.5h-5.5a8.5 8.5 0 0 1 -8.5 -8.5v-7a8.5 8.5 0 0 1 8.5 -8.5zM873.9 313.7h5.5a8.5 8.5 0 0 1 8.5 8.5v7a8.5 8.5 0 0 1 -8.5 8.5h-5.5a8.5 8.5 0 0 1 -8.5 -8.5v-7a8.5 8.5 0 0 1 8.5 -8.5zM879.9 332.5h5.5a8.5 8.5 0 0 1 8.5 8.5v7a8.5 8.5 0 0 1 -8.5 8.5h-5.5a8.5 8.5 0 0 1 -8.5 -8.5v-7a8.5 8.5 0 0 1 8.5 -8.5zM886 351.6h5.5a8.5 8.5 0 0 1 8.5 8.5v7a8.5 8.5 0 0 1 -8.5 8.5h-5.5a8.5 8.5 0 0 1 -8.5 -8.5v-7a8.5 8.5 0 0 1 8.5 -8.5zM892 371.1h5.5a8.5 8.5 0 0 1 8.5 8.5v7a8.5 8.5 0 0 1 -8.5 8.5h-5.5a8.5 8.5 0 0 1 -8.5 -8.5v-7a8.5 8.5 0 0 1 8.5 -8.5zM898.1 390.9h5.5a8.5 8.5 0 0 1 8.5 8.5v7a8.5 8.5 0 0 1 -8.5 8.5h-5.5a8.5 8.5 0 0 1 -8.5 -8.5v-7a8.5 8.5 0 0 1 8.5 -8.5zM904.1 411.2h5.5a8.5 8.5 0 0 1 8.5 8.5v7a8.5 8.5 0 0 1 -8.5 8.5h-5.5a8.5 8.5 0 0 1 -8.5 -8.5v-7a8.5 8.5 0 0 1 8.5 -8.5zM910.1 431.8h5.5a8.5 8.5 0 0 1 8.5 8.5v7a8.5 8.5 0 0 1 -8.5 8.5h-5.5a8.5 8.5 0 0 1 -8.5 -8.5v-7a8.5 8.5 0 0 1 8.5 -8.5zM916.2 452.9h5.5a8.5 8.5 0 0 1 8.5 8.5v7a8.5 8.5 0 0 1 -8.5 8.5h-5.5a8.5 8.5 0 0 1 -8.5 -8.5v-7a8.5 8.5 0 0 1 8.5 -8.5zM922.2 474.6h5.5a8.5 8.5 0 0 1 8.5 8.5v7a8.5 8.5 0 0 1 -8.5 8.5h-5.5a8.5 8.5 0 0 1 -8.5 -8.5v-7a8.5 8.5 0 0 1 8.5 -8.5zM928.3 496.8h5.5a8.5 8.5 0 0 1 8.5 8.5v7a8.5 8.5 0 0 1 -8.5 8.5h-5.5a8.5 8.5 0 0 1 -8.5 -8.5v-7a8.5 8.5 0 0 1 8.5 -8.5zM934.3 519.7h5.5a8.5 8.5 0 0 1 8.5 8.5v7a8.5 8.5 0 0 1 -8.5 8.5h-5.5a8.5 8.5 0 0 1 -8.5 -8.5v-7a8.5 8.5 0 0 1 8.5 -8.5zM940.4 543.1h5.5a8.5 8.5 0 0 1 8.5 8.5v7a8.5 8.5 0 0 1 -8.5 8.5h-5.5a8.5 8.5 0 0 1 -8.5 -8.5v-7a8.5 8.5 0 0 1 8.5 -8.5zM946.4 567h5.5a8.5 8.5 0 0 1 8.5 8.5v7a8.5 8.5 0 0 1 -8.5 8.5h-5.5a8.5 8.5 0 0 1 -8.5 -8.5v-7a8.5 8.5 0 0 1 8.5 -8.5zM952.4 591.3h5.5a8.5 8.5 0 0 1 8.5 8.5v7a8.5 8.5 0 0 1 -8.5 8.5h-5.5a8.5 8.5 0 0 1 -8.5 -8.5v-7a8.5 8.5 0 0 1 8.5 -8.5zM958.5 615.8h5.5a8.5 8.5 0 0 1 8.5 8.5v7a8.5 8.5 0 0 1 -8.5 8.5h-5.5a8.5 8.5 0 0 1 -8.5 -8.5v-7a8.5 8.5 0 0 1 8.5 -8.5zM964.5 640.5h5.5a8.5 8.5 0 0 1 8.5 8.5v7a8.5 8.5 0 0 1 -8.5 8.5h-5.5a8.5 8.5 0 0 1 -8.5 -8.5v-7a8.5 8.5 0 0 1 8.5 -8.5zM970.6 665.2h5.5a8.5 8.5 0 0 1 8.5 8.5v7a8.5 8.5 0 0 1 -8.5 8.5h-5.5a8.5 8.5 0 0 1 -8.5 -8.5v-7a8.5 8.5 0 0 1 8.5 -8.5zM976.6 689.8h5.5a8.5 8.5 0 0 1 8.5 8.5v7a8.5 8.5 0 0 1 -8.5 8.5h-5.5a8.5 8.5 0 0 1 -8.5 -8.5v-7a8.5 8.5 0 0 1 8.5 -8.5zM982.6 714.2h5.5a8.5 8.5 0 0 1 8.5 8.5v7a8.5 8.5 0 0 1 -8.5 8.5h-5.5a8.5 8.5 0 0 1 -8.5 -8.5v-7a8.5 8.5 0 0 1 8.5 -8.5zM988.7 738.2h5.5a8.5 8.5 0 0 1 8.5 8.5v7a8.5 8.5 0 0 1 -8.5 8.5h-5.5a8.5 8.5 0 0 1 -8.5 -8.5v-7a8.5 8.5 0 0 1 8.5 -8.5zM994.7 761.8h5.5a8.5 8.5 0 0 1 8.5 8.5v7a8.5 8.5 0 0 1 -8.5 8.5h-5.5a8.5 8.5 0 0 1 -8.5 -8.5v-7a8.5 8.5 0 0 1 8.5 -8.5zM1000.8 784.9h5.5a8.5 8.5 0 0 1 8.5 8.5v7a8.5 8.5 0 0 1 -8.5 8.5h-5.5a8.5 8.5 0 0 1 -8.5 -8.5v-7a8.5 8.5 0 0 1 8.5 -8.5zM1006.8 807.3h5.5a8.5 8.5 0 0 1 8.5 8.5v7a8.5 8.5 0 0 1 -8.5 8.5h-5.5a8.5 8.5 0 0 1 -8.5 -8.5v-7a8.5 8.5 0 0 1 8.5 -8.5zM1012.9 829.1h5.5a8.5 8.5 0 0 1 8.5 8.5v7a8.5 8.5 0 0 1 -8.5 8.5h-5.5a8.5 8.5 0 0 1 -8.5 -8.5v-7a8.5 8.5 0 0 1 8.5 -8.5zM1018.9 850.2h5.5a8.5 8.5 0 0 1 8.5 8.5v7a8.5 8.5 0 0 1 -8.5 8.5h-5.5a8.5 8.5 0 0 1 -8.5 -8.5v-7a8.5 8.5 0 0 1 8.5 -8.5zM1024.9 870.5h5.5a8.5 8.5 0 0 1 8.5 8.5v7a8.5 8.5 0 0 1 -8.5 8.5h-5.5a8.5 8.5 0 0 1 -8.5 -8.5v-7a8.5 8.5 0 0 1 8.5 -8.5zM1031 889.9h5.5a8.5 8.5 0 0 1 8.5 8.5v7a8.5 8.5 0 0 1 -8.5 8.5h-5.5a8.5 8.5 0 0 1 -8.5 -8.5v-7a8.5 8.5 0 0 1 8.5 -8.5zM1037 908.4h5.5a8.5 8.5 0 0 1 8.5 8.5v7a8.5 8.5 0 0 1 -8.5 8.5h-5.5a8.5 8.5 0 0 1 -8.5 -8.5v-7a8.5 8.5 0 0 1 8.5 -8.5zM1043.1 926.1h5.5a8.5 8.5 0 0 1 8.5 8.5v7a8.5 8.5 0 0 1 -8.5 8.5h-5.5a8.5 8.5 0 0 1 -8.5 -8.5v-7a8.5 8.5 0 0 1 8.5 -8.5zM1049.1 942.8h5.5a8.5 8.5 0 0 1 8.5 8.5v7a8.5 8.5 0 0 1 -8.5 8.5h-5.5a8.5 8.5 0 0 1 -8.5 -8.5v-7a8.5 8.5 0 0 1 8.5 -8.5zM1055.1 958.6h5.5a8.5 8.5 0 0 1 8.5 8.5v7a8.5 8.5 0 0 1 -8.5 8.5h-5.5a8.5 8.5 0 0 1 -8.5 -8.5v-7a8.5 8.5 0 0 1 8.5 -8.5zM1061.2 973.4h5.5a8.5 8.5 0 0 1 8.5 8.5v7a8.5 8.5 0 0 1 -8.5 8.5h-5.5a8.5 8.5 0 0 1 -8.5 -8.5v-7a8.5 8.5 0 0 1 8.5 -8.5zM1067.2 987.3h5.5a8.5 8.5 0 0 1 8.5 8.5v7a8.5 8.5 0 0 1 -8.5 8.5h-5.5a8.5 8.5 0 0 1 -8.5 -8.5v-7a8.5 8.5 0 0 1 8.5 -8.5zM1073.3 1000.3h5.5a8.5 8.5 0 0 1 8.5 8.5v7a8.5 8.5 0 0 1 -8.5 8.5h-5.5a8.5 8.5 0 0 1 -8.5 -8.5v-7a8.5 8.5 0 0 1 8.5 -8.5zM1079.3 1012.4h5.5a8.5 8.5 0 0 1 8.5 8.5v7a8.5 8.5 0 0 1 -8.5 8.5h-5.5a8.5 8.5 0 0 1 -8.5 -8.5v-7a8.5 8.5 0 0 1 8.5 -8.5zM1085.3 1023.6h5.5a8.5 8.5 0 0 1 8.5 8.5v7a8.5 8.5 0 0 1 -8.5 8.5h-5.5a8.5 8.5 0 0 1 -8.5 -8.5v-7a8.5 8.5 0 0 1 8.5 -8.5zM1091.4 1033.9h5.5a8.5 8.5 0 0 1 8.5 8.5v7a8.5 8.5 0 0 1 -8.5 8.5h-5.5a8.5 8.5 0 0 1 -8.5 -8.5v-7a8.5 8.5 0 0 1 8.5 -8.5zM1097.4 1043.5h5.5a8.5 8.5 0 0 1 8.5 8.5v7a8.5 8.5 0 0 1 -8.5 8.5h-5.5a8.5 8.5 0 0 1 -8.5 -8.5v-7a8.5 8.5 0 0 1 8.5 -8.5zM1103.5 1052.2h5.5a8.5 8.5 0 0 1 8.5 8.5v7a8.5 8.5 0 0 1 -8.5 8.5h-5.5a8.5 8.5 0 0 1 -8.5 -8.5v-7a8.5 8.5 0 0 1 8.5 -8.5zM1109.5 1060.2h5.5a8.5 8.5 0 0 1 8.5 8.5v7a8.5 8.5 0 0 1 -8.5 8.5h-5.5a8.5 8.5 0 0 1 -8.5 -8.5v-7a8.5 8.5 0 0 1 8.5 -8.5zM1115.6 1067.5h5.5a8.5 8.5 0 0 1 8.5 8.5v7a8.5 8.5 0 0 1 -8.5 8.5h-5.5a8.5 8.5 0 0 1 -8.5 -8.5v-7a8.5 8.5 0 0 1 8.5 -8.5zM1121.6 1074.1h5.5a8.5 8.5 0 0 1 8.5 8.5v7a8.5 8.5 0 0 1 -8.5 8.5h-5.5a8.5 8.5 0 0 1 -8.5 -8.5v-7a8.5 8.5 0 0 1 8.5 -8.5zM1127.6 1080.1h5.5a8.5 8.5 0 0 1 8.5 8.5v7a8.5 8.5 0 0 1 -8.5 8.5h-5.5a8.5 8.5 0 0 1 -8.5 -8.5v-7a8.5 8.5 0 0 1 8.5 -8.5zM1133.7 1085.5h5.5a8.5 8.5 0 0 1 8.5 8.5v7a8.5 8.5 0 0 1 -8.5 8.5h-5.5a8.5 8.5 0 0 1 -8.5 -8.5v-7a8.5 8.5 0 0 1 8.5 -8.5zM1139.7 1090.4h5.5a8.5 8.5 0 0 1 8.5 8.5v7a8.5 8.5 0 0 1 -8.5 8.5h-5.5a8.5 8.5 0 0 1 -8.5 -8.5v-7a8.5 8.5 0 0 1 8.5 -8.5zM1145.8 1094.8h5.5a8.5 8.5 0 0 1 8.5 8.5v7a8.5 8.5 0 0 1 -8.5 8.5h-5.5a8.5 8.5 0 0 1 -8.5 -8.5v-7a8.5 8.5 0 0 1 8.5 -8.5zM1151.8 1098.8h5.5a8.5 8.5 0 0 1 8.5 8.5v7a8.5 8.5 0 0 1 -8.5 8.5h-5.5a8.5 8.5 0 0 1 -8.5 -8.5v-7a8.5 8.5 0 0 1 8.5 -8.5zM1157.8 1102.4h5.5a8.5 8.5 0 0 1 8.5 8.5v7a8.5 8.5 0 0 1 -8.5 8.5h-5.5a8.5 8.5 0 0 1 -8.5 -8.5v-7a8.5 8.5 0 0 1 8.5 -8.5zM1163.9 1105.5h5.5a8.5 8.5 0 0 1 8.5 8.5v7a8.5 8.5 0 0 1 -8.5 8.5h-5.5a8.5 8.5 0 0 1 -8.5 -8.5v-7a8.5 8.5 0 0 1 8.5 -8.5zM1169.9 1108.4h5.5a8.5 8.5 0 0 1 8.5 8.5v7a8.5 8.5 0 0 1 -8.5 8.5h-5.5a8.5 8.5 0 0 1 -8.5 -8.5v-7a8.5 8.5 0 0 1 8.5 -8.5zM1176 1111h5.5a8.5 8.5 0 0 1 8.5 8.5v7a8.5 8.5 0 0 1 -8.5 8.5h-5.5a8.5 8.5 0 0 1 -8.5 -8.5v-7a8.5 8.5 0 0 1 8.5 -8.5zM1182 1113.2h5.5a8.5 8.5 0 0 1 8.5 8.5v7a8.5 8.5 0 0 1 -8.5 8.5h-5.5a8.5 8.5 0 0 1 -8.5 -8.5v-7a8.5 8.5 0 0 1 8.5 -8.5zM1188.1 1115.3h5.5a8.5 8.5 0 0 1 8.5 8.5v7a8.5 8.5 0 0 1 -8.5 8.5h-5.5a8.5 8.5 0 0 1 -8.5 -8.5v-7a8.5 8.5 0 0 1 8.5 -8.5zM1194.1 1117.1h5.5a8.5 8.5 0 0 1 8.5 8.5v7a8.5 8.5 0 0 1 -8.5 8.5h-5.5a8.5 8.5 0 0 1 -8.5 -8.5v-7a8.5 8.5 0 0 1 8.5 -8.5zM1200.1 1118.8h5.5a8.5 8.5 0 0 1 8.5 8.5v7a8.5 8.5 0 0 1 -8.5 8.5h-5.5a8.5 8.5 0 0 1 -8.5 -8.5v-7a8.5 8.5 0 0 1 8.5 -8.5zM1206.2 1120.3h5.5a8.5 8.5 0 0 1 8.5 8.5v7a8.5 8.5 0 0 1 -8.5 8.5h-5.5a8.5 8.5 0 0 1 -8.5 -8.5v-7a8.5 8.5 0 0 1 8.5 -8.5zM1212.2 1121.6h5.5a8.5 8.5 0 0 1 8.5 8.5v7a8.5 8.5 0 0 1 -8.5 8.5h-5.5a8.5 8.5 0 0 1 -8.5 -8.5v-7a8.5 8.5 0 0 1 8.5 -8.5zM1218.3 1122.8h5.5a8.5 8.5 0 0 1 8.5 8.5v7a8.5 8.5 0 0 1 -8.5 8.5h-5.5a8.5 8.5 0 0 1 -8.5 -8.5v-7a8.5 8.5 0 0 1 8.5 -8.5zM1224.3 1124h5.5a8.5 8.5 0 0 1 8.5 8.5v7a8.5 8.5 0 0 1 -8.5 8.5h-5.5a8.5 8.5 0 0 1 -8.5 -8.5v-7a8.5 8.5 0 0 1 8.5 -8.5zM1230.3 1125h5.5a8.5 8.5 0 0 1 8.5 8.5v7a8.5 8.5 0 0 1 -8.5 8.5h-5.5a8.5 8.5 0 0 1 -8.5 -8.5v-7a8.5 8.5 0 0 1 8.5 -8.5zM1236.4 1125.9h5.5a8.5 8.5 0 0 1 8.5 8.5v7a8.5 8.5 0 0 1 -8.5 8.5h-5.5a8.5 8.5 0 0 1 -8.5 -8.5v-7a8.5 8.5 0 0 1 8.5 -8.5zM1242.4 1126.7h5.5a8.5 8.5 0 0 1 8.5 8.5v7a8.5 8.5 0 0 1 -8.5 8.5h-5.5a8.5 8.5 0 0 1 -8.5 -8.5v-7a8.5 8.5 0 0 1 8.5 -8.5zM1248.5 1127.5h5.5a8.5 8.5 0 0 1 8.5 8.5v7a8.5 8.5 0 0 1 -8.5 8.5h-5.5a8.5 8.5 0 0 1 -8.5 -8.5v-7a8.5 8.5 0 0 1 8.5 -8.5zM1254.5 1128.2h5.5a8.5 8.5 0 0 1 8.5 8.5v7a8.5 8.5 0 0 1 -8.5 8.5h-5.5a8.5 8.5 0 0 1 -8.5 -8.5v-7a8.5 8.5 0 0 1 8.5 -8.5zM1260.6 1128.9h5.5a8.5 8.5 0 0 1 8.5 8.5v7a8.5 8.5 0 0 1 -8.5 8.5h-5.5a8.5 8.5 0 0 1 -8.5 -8.5v-7a8.5 8.5 0 0 1 8.5 -8.5zM1266.6 1129.5h5.5a8.5 8.5 0 0 1 8.5 8.5v7a8.5 8.5 0 0 1 -8.5 8.5h-5.5a8.5 8.5 0 0 1 -8.5 -8.5v-7a8.5 8.5 0 0 1 8.5 -8.5zM1272.6 1130.1h5.5a8.5 8.5 0 0 1 8.5 8.5v7a8.5 8.5 0 0 1 -8.5 8.5h-5.5a8.5 8.5 0 0 1 -8.5 -8.5v-7a8.5 8.5 0 0 1 8.5 -8.5zM1278.7 1130.6h5.5a8.5 8.5 0 0 1 8.5 8.5v7a8.5 8.5 0 0 1 -8.5 8.5h-5.5a8.5 8.5 0 0 1 -8.5 -8.5v-7a8.5 8.5 0 0 1 8.5 -8.5zM1284.7 1131.1h5.5a8.5 8.5 0 0 1 8.5 8.5v7a8.5 8.5 0 0 1 -8.5 8.5h-5.5a8.5 8.5 0 0 1 -8.5 -8.5v-7a8.5 8.5 0 0 1 8.5 -8.5zM1290.8 1131.6h5.5a8.5 8.5 0 0 1 8.5 8.5v7a8.5 8.5 0 0 1 -8.5 8.5h-5.5a8.5 8.5 0 0 1 -8.5 -8.5v-7a8.5 8.5 0 0 1 8.5 -8.5zM1296.8 1132.1h5.5a8.5 8.5 0 0 1 8.5 8.5v7a8.5 8.5 0 0 1 -8.5 8.5h-5.5a8.5 8.5 0 0 1 -8.5 -8.5v-7a8.5 8.5 0 0 1 8.5 -8.5zM1302.8 1132.5h5.5a8.5 8.5 0 0 1 8.5 8.5v7a8.5 8.5 0 0 1 -8.5 8.5h-5.5a8.5 8.5 0 0 1 -8.5 -8.5v-7a8.5 8.5 0 0 1 8.5 -8.5zM1308.9 1133h5.5a8.5 8.5 0 0 1 8.5 8.5v7a8.5 8.5 0 0 1 -8.5 8.5h-5.5a8.5 8.5 0 0 1 -8.5 -8.5v-7a8.5 8.5 0 0 1 8.5 -8.5zM1314.9 1133.4h5.5a8.5 8.5 0 0 1 8.5 8.5v7a8.5 8.5 0 0 1 -8.5 8.5h-5.5a8.5 8.5 0 0 1 -8.5 -8.5v-7a8.5 8.5 0 0 1 8.5 -8.5zM1321 1133.7h5.5a8.5 8.5 0 0 1 8.5 8.5v7a8.5 8.5 0 0 1 -8.5 8.5h-5.5a8.5 8.5 0 0 1 -8.5 -8.5v-7a8.5 8.5 0 0 1 8.5 -8.5zM1327 1134.1h5.5a8.5 8.5 0 0 1 8.5 8.5v7a8.5 8.5 0 0 1 -8.5 8.5h-5.5a8.5 8.5 0 0 1 -8.5 -8.5v-7a8.5 8.5 0 0 1 8.5 -8.5zM1333.1 1134.5h5.5a8.5 8.5 0 0 1 8.5 8.5v7a8.5 8.5 0 0 1 -8.5 8.5h-5.5a8.5 8.5 0 0 1 -8.5 -8.5v-7a8.5 8.5 0 0 1 8.5 -8.5zM1339.1 1134.8h5.5a8.5 8.5 0 0 1 8.5 8.5v7a8.5 8.5 0 0 1 -8.5 8.5h-5.5a8.5 8.5 0 0 1 -8.5 -8.5v-7a8.5 8.5 0 0 1 8.5 -8.5zM1345.1 1135.1h5.5a8.5 8.5 0 0 1 8.5 8.5v7a8.5 8.5 0 0 1 -8.5 8.5h-5.5a8.5 8.5 0 0 1 -8.5 -8.5v-7a8.5 8.5 0 0 1 8.5 -8.5zM1351.2 1135.4h5.5a8.5 8.5 0 0 1 8.5 8.5v7a8.5 8.5 0 0 1 -8.5 8.5h-5.5a8.5 8.5 0 0 1 -8.5 -8.5v-7a8.5 8.5 0 0 1 8.5 -8.5zM1357.2 1135.7h5.5a8.5 8.5 0 0 1 8.5 8.5v7a8.5 8.5 0 0 1 -8.5 8.5h-5.5a8.5 8.5 0 0 1 -8.5 -8.5v-7a8.5 8.5 0 0 1 8.5 -8.5zM1363.3 1136h5.5a8.5 8.5 0 0 1 8.5 8.5v7a8.5 8.5 0 0 1 -8.5 8.5h-5.5a8.5 8.5 0 0 1 -8.5 -8.5v-7a8.5 8.5 0 0 1 8.5 -8.5zM1369.3 1136.3h5.5a8.5 8.5 0 0 1 8.5 8.5v7a8.5 8.5 0 0 1 -8.5 8.5h-5.5a8.5 8.5 0 0 1 -8.5 -8.5v-7a8.5 8.5 0 0 1 8.5 -8.5zM1375.3 1136.6h5.5a8.5 8.5 0 0 1 8.5 8.5v7a8.5 8.5 0 0 1 -8.5 8.5h-5.5a8.5 8.5 0 0 1 -8.5 -8.5v-7a8.5 8.5 0 0 1 8.5 -8.5zM1381.4 1136.8h5.5a8.5 8.5 0 0 1 8.5 8.5v7a8.5 8.5 0 0 1 -8.5 8.5h-5.5a8.5 8.5 0 0 1 -8.5 -8.5v-7a8.5 8.5 0 0 1 8.5 -8.5zM1387.4 1137.1h5.5a8.5 8.5 0 0 1 8.5 8.5v7a8.5 8.5 0 0 1 -8.5 8.5h-5.5a8.5 8.5 0 0 1 -8.5 -8.5v-7a8.5 8.5 0 0 1 8.5 -8.5zM1393.5 1137.3h5.5a8.5 8.5 0 0 1 8.5 8.5v7a8.5 8.5 0 0 1 -8.5 8.5h-5.5a8.5 8.5 0 0 1 -8.5 -8.5v-7a8.5 8.5 0 0 1 8.5 -8.5zM1399.5 1137.6h5.5a8.5 8.5 0 0 1 8.5 8.5v7a8.5 8.5 0 0 1 -8.5 8.5h-5.5a8.5 8.5 0 0 1 -8.5 -8.5v-7a8.5 8.5 0 0 1 8.5 -8.5zM1405.5 1137.8h5.5a8.5 8.5 0 0 1 8.5 8.5v7a8.5 8.5 0 0 1 -8.5 8.5h-5.5a8.5 8.5 0 0 1 -8.5 -8.5v-7a8.5 8.5 0 0 1 8.5 -8.5zM1411.6 1138h5.5a8.5 8.5 0 0 1 8.5 8.5v7a8.5 8.5 0 0 1 -8.5 8.5h-5.5a8.5 8.5 0 0 1 -8.5 -8.5v-7a8.5 8.5 0 0 1 8.5 -8.5zM1417.6 1138.2h5.5a8.5 8.5 0 0 1 8.5 8.5v7a8.5 8.5 0 0 1 -8.5 8.5h-5.5a8.5 8.5 0 0 1 -8.5 -8.5v-7a8.5 8.5 0 0 1 8.5 -8.5zM1423.7 1138.4h5.5a8.5 8.5 0 0 1 8.5 8.5v7a8.5 8.5 0 0 1 -8.5 8.5h-5.5a8.5 8.5 0 0 1 -8.5 -8.5v-7a8.5 8.5 0 0 1 8.5 -8.5zM1429.7 1138.6h5.5a8.5 8.5 0 0 1 8.5 8.5v7a8.5 8.5 0 0 1 -8.5 8.5h-5.5a8.5 8.5 0 0 1 -8.5 -8.5v-7a8.5 8.5 0 0 1 8.5 -8.5zM1435.8 1138.8h5.5a8.5 8.5 0 0 1 8.5 8.5v7a8.5 8.5 0 0 1 -8.5 8.5h-5.5a8.5 8.5 0 0 1 -8.5 -8.5v-7a8.5 8.5 0 0 1 8.5 -8.5zM1441.8 1139h5.5a8.5 8.5 0 0 1 8.5 8.5v7a8.5 8.5 0 0 1 -8.5 8.5h-5.5a8.5 8.5 0 0 1 -8.5 -8.5v-7a8.5 8.5 0 0 1 8.5 -8.5zM1447.8 1139.2h5.5a8.5 8.5 0 0 1 8.5 8.5v7a8.5 8.5 0 0 1 -8.5 8.5h-5.5a8.5 8.5 0 0 1 -8.5 -8.5v-7a8.5 8.5 0 0 1 8.5 -8.5zM1453.9 1139.4h5.5a8.5 8.5 0 0 1 8.5 8.5v7a8.5 8.5 0 0 1 -8.5 8.5h-5.5a8.5 8.5 0 0 1 -8.5 -8.5v-7a8.5 8.5 0 0 1 8.5 -8.5zM1459.9 1139.5h5.5a8.5 8.5 0 0 1 8.5 8.5v7a8.5 8.5 0 0 1 -8.5 8.5h-5.5a8.5 8.5 0 0 1 -8.5 -8.5v-7a8.5 8.5 0 0 1 8.5 -8.5zM1466 1139.7h5.5a8.5 8.5 0 0 1 8.5 8.5v7a8.5 8.5 0 0 1 -8.5 8.5h-5.5a8.5 8.5 0 0 1 -8.5 -8.5v-7a8.5 8.5 0 0 1 8.5 -8.5zM1472 1139.9h5.5a8.5 8.5 0 0 1 8.5 8.5v7a8.5 8.5 0 0 1 -8.5 8.5h-5.5a8.5 8.5 0 0 1 -8.5 -8.5v-7a8.5 8.5 0 0 1 8.5 -8.5zM1478 1140h5.5a8.5 8.5 0 0 1 8.5 8.5v7a8.5 8.5 0 0 1 -8.5 8.5h-5.5a8.5 8.5 0 0 1 -8.5 -8.5v-7a8.5 8.5 0 0 1 8.5 -8.5zM1484.1 1140.2h5.5a8.5 8.5 0 0 1 8.5 8.5v7a8.5 8.5 0 0 1 -8.5 8.5h-5.5a8.5 8.5 0 0 1 -8.5 -8.5v-7a8.5 8.5 0 0 1 8.5 -8.5zM1490.1 1140.3h5.5a8.5 8.5 0 0 1 8.5 8.5v7a8.5 8.5 0 0 1 -8.5 8.5h-5.5a8.5 8.5 0 0 1 -8.5 -8.5v-7a8.5 8.5 0 0 1 8.5 -8.5zM1496.2 1140.5h5.5a8.5 8.5 0 0 1 8.5 8.5v7a8.5 8.5 0 0 1 -8.5 8.5h-5.5a8.5 8.5 0 0 1 -8.5 -8.5v-7a8.5 8.5 0 0 1 8.5 -8.5zM1502.2 1140.6h5.5a8.5 8.5 0 0 1 8.5 8.5v7a8.5 8.5 0 0 1 -8.5 8.5h-5.5a8.5 8.5 0 0 1 -8.5 -8.5v-7a8.5 8.5 0 0 1 8.5 -8.5zM1508.3 1140.8h5.5a8.5 8.5 0 0 1 8.5 8.5v7a8.5 8.5 0 0 1 -8.5 8.5h-5.5a8.5 8.5 0 0 1 -8.5 -8.5v-7a8.5 8.5 0 0 1 8.5 -8.5zM1514.3 1140.9h5.5a8.5 8.5 0 0 1 8.5 8.5v7a8.5 8.5 0 0 1 -8.5 8.5h-5.5a8.5 8.5 0 0 1 -8.5 -8.5v-7a8.5 8.5 0 0 1 8.5 -8.5zM1520.3 1141h5.5a8.5 8.5 0 0 1 8.5 8.5v7a8.5 8.5 0 0 1 -8.5 8.5h-5.5a8.5 8.5 0 0 1 -8.5 -8.5v-7a8.5 8.5 0 0 1 8.5 -8.5zM1526.4 1141.2h5.5a8.5 8.5 0 0 1 8.5 8.5v7a8.5 8.5 0 0 1 -8.5 8.5h-5.5a8.5 8.5 0 0 1 -8.5 -8.5v-7a8.5 8.5 0 0 1 8.5 -8.5zM1532.4 1141.3h5.5a8.5 8.5 0 0 1 8.5 8.5v7a8.5 8.5 0 0 1 -8.5 8.5h-5.5a8.5 8.5 0 0 1 -8.5 -8.5v-7a8.5 8.5 0 0 1 8.5 -8.5zM1538.5 1141.4h5.5a8.5 8.5 0 0 1 8.5 8.5v7a8.5 8.5 0 0 1 -8.5 8.5h-5.5a8.5 8.5 0 0 1 -8.5 -8.5v-7a8.5 8.5 0 0 1 8.5 -8.5zM1544.5 1141.5h5.5a8.5 8.5 0 0 1 8.5 8.5v7a8.5 8.5 0 0 1 -8.5 8.5h-5.5a8.5 8.5 0 0 1 -8.5 -8.5v-7a8.5 8.5 0 0 1 8.5 -8.5zM1550.5 1141.6h5.5a8.5 8.5 0 0 1 8.5 8.5v7a8.5 8.5 0 0 1 -8.5 8.5h-5.5a8.5 8.5 0 0 1 -8.5 -8.5v-7a8.5 8.5 0 0 1 8.5 -8.5zM1556.6 1141.7h5.5a8.5 8.5 0 0 1 8.5 8.5v7a8.5 8.5 0 0 1 -8.5 8.5h-5.5a8.5 8.5 0 0 1 -8.5 -8.5v-7a8.5 8.5 0 0 1 8.5 -8.5zM1562.6 1141.8h5.5a8.5 8.5 0 0 1 8.5 8.5v7a8.5 8.5 0 0 1 -8.5 8.5h-5.5a8.5 8.5 0 0 1 -8.5 -8.5v-7a8.5 8.5 0 0 1 8.5 -8.5zM1568.7 1142h5.5a8.5 8.5 0 0 1 8.5 8.5v7a8.5 8.5 0 0 1 -8.5 8.5h-5.5a8.5 8.5 0 0 1 -8.5 -8.5v-7a8.5 8.5 0 0 1 8.5 -8.5zM1574.7 1142.1h5.5a8.5 8.5 0 0 1 8.5 8.5v7a8.5 8.5 0 0 1 -8.5 8.5h-5.5a8.5 8.5 0 0 1 -8.5 -8.5v-7a8.5 8.5 0 0 1 8.5 -8.5zM1580.8 1142.2h5.5a8.5 8.5 0 0 1 8.5 8.5v7a8.5 8.5 0 0 1 -8.5 8.5h-5.5a8.5 8.5 0 0 1 -8.5 -8.5v-7a8.5 8.5 0 0 1 8.5 -8.5zM1586.8 1142.3h5.5a8.5 8.5 0 0 1 8.5 8.5v7a8.5 8.5 0 0 1 -8.5 8.5h-5.5a8.5 8.5 0 0 1 -8.5 -8.5v-7a8.5 8.5 0 0 1 8.5 -8.5zM1592.8 1142.4h5.5a8.5 8.5 0 0 1 8.5 8.5v7a8.5 8.5 0 0 1 -8.5 8.5h-5.5a8.5 8.5 0 0 1 -8.5 -8.5v-7a8.5 8.5 0 0 1 8.5 -8.5zM1598.9 1142.4h5.5a8.5 8.5 0 0 1 8.5 8.5v7a8.5 8.5 0 0 1 -8.5 8.5h-5.5a8.5 8.5 0 0 1 -8.5 -8.5v-7a8.5 8.5 0 0 1 8.5 -8.5zM1604.9 1142.5h5.5a8.5 8.5 0 0 1 8.5 8.5v7a8.5 8.5 0 0 1 -8.5 8.5h-5.5a8.5 8.5 0 0 1 -8.5 -8.5v-7a8.5 8.5 0 0 1 8.5 -8.5zM1611 1142.6h5.5a8.5 8.5 0 0 1 8.5 8.5v7a8.5 8.5 0 0 1 -8.5 8.5h-5.5a8.5 8.5 0 0 1 -8.5 -8.5v-7a8.5 8.5 0 0 1 8.5 -8.5zM1617 1142.7h5.5a8.5 8.5 0 0 1 8.5 8.5v7a8.5 8.5 0 0 1 -8.5 8.5h-5.5a8.5 8.5 0 0 1 -8.5 -8.5v-7a8.5 8.5 0 0 1 8.5 -8.5zM1623 1142.8h5.5a8.5 8.5 0 0 1 8.5 8.5v7a8.5 8.5 0 0 1 -8.5 8.5h-5.5a8.5 8.5 0 0 1 -8.5 -8.5v-7a8.5 8.5 0 0 1 8.5 -8.5zM1629.1 1142.9h5.5a8.5 8.5 0 0 1 8.5 8.5v7a8.5 8.5 0 0 1 -8.5 8.5h-5.5a8.5 8.5 0 0 1 -8.5 -8.5v-7a8.5 8.5 0 0 1 8.5 -8.5zM1635.1 1143h5.5a8.5 8.5 0 0 1 8.5 8.5v7a8.5 8.5 0 0 1 -8.5 8.5h-5.5a8.5 8.5 0 0 1 -8.5 -8.5v-7a8.5 8.5 0 0 1 8.5 -8.5zM1641.2 1143h5.5a8.5 8.5 0 0 1 8.5 8.5v7a8.5 8.5 0 0 1 -8.5 8.5h-5.5a8.5 8.5 0 0 1 -8.5 -8.5v-7a8.5 8.5 0 0 1 8.5 -8.5z"/>
<path fill="#00f" d="M142.6 1159.3h6l10 25h-26zM148.7 1159.2h6l10 25h-26zM154.7 1159.1h6l10 25h-26zM160.8 1158.9h6l10 25h-26zM166.8 1158.8h6l10 25h-26zM172.8 1158.6h6l10 25h-26zM178.9 1158.5h6l10 25h-26zM184.9 1158.3h6l10 25h-26zM191 1158.2h6l10 25h-26zM197 1158h6l10 25h-26zM203 1157.8h6l10 25h-26zM209.1 1157.6h6l10 25h-26zM215.1 1157.5h6l10 25h-26zM221.2 1157.3h6l10 25h-26zM227.2 1157.1h6l10 25h-26zM233.2 1156.9h6l10 25h-26zM239.3 1156.7h6l10 25h-26zM245.3 1156.4h6l10 25h-26zM251.4 1156.2h6l10 25h-26zM257.4 1156h6l10 25h-26zM263.5 1155.7h6l10 25h-26zM269.5 1155.5h6l10 25h-26zM275.5 1155.2h6l10 25h-26zM281.6 1155h6l10 25h-26zM287.6 1154.7h6l10 25h-26zM293.7 1154.4h6l10 25h-26zM299.7 1154.1h6l10 25h-26zM305.7 1153.8h6l10 25h-26zM311.8 1153.5h6l10 25h-26zM317.8 1153.2h6l10 25h-26zM323.9 1152.8h6l10 25h-26zM329.9 1152.5h6l10 25h-26zM336 1152.1h6l10 25h-26zM342 1151.7h6l10 25h-26zM348 1151.3h6l10 25h-26zM354.1 1150.9h6l10 25h-26zM360.1 1150.4h6l10 25h-26zM366.2 1150h6l10 25h-26zM372.2 1149.5h6l10 25h-26zM378.2 1149h6l10 25h-26zM384.3 1148.4h6l10 25h-26zM390.3 1147.8h6l10 25h-26zM396.4 1147.2h6l10 25h-26zM402.4 1146.5h6l10 25h-26zM408.5 1145.8h6l10 25h-26zM414.5 1145h6l10 25h-26zM420.5 1144.2h6l10 25h-26zM426.6 1143.3h6l10 25h-26zM432.6 1142.3h6l10 25h-26zM438.7 1141.2h6l10 25h-26zM444.7 1140h6l10 25h-26zM450.7 1138.7h6l10 25h-26zM456.8 1137.2h6l10 25h-26zM462.8 1135.5h6l10 25h-26zM468.9 1133.6h6l10 25h-26zM474.9 1131.5h6l10 25h-26zM480.9 1129.2h6l10 25h-26zM487 1126.5h6l10 25h-26zM493 1123.5h6l10 25h-26zM499.1 1120.1h6l10 25h-26zM505.1 1116.2h6l10 25h-26zM511.2 1111.8h6l10 25h-26zM517.2 1106.9h6l10 25h-26zM523.2 1101.4h6l10 25h-26zM529.3 1095.1h6l10 25h-26zM535.3 1088.1h6l10 25h-26zM541.4 1080.2h6l10 25h-26zM547.4 1071.4h6l10 25h-26zM553.4 1061.6h6l10 25h-26zM559.5 1050.7h6l10 25h-26zM565.5 1038.7h6l10 25h-26zM571.6 1025.4h6l10 25h-26zM577.6 1010.8h6l10 25h-26zM583.7 994.8h6l10 25h-26zM589.7 977.4h6l10 25h-26zM595.7 958.5h6l10 25h-26zM601.8 938.2h6l10 25h-26zM607.8 916.2h6l10 25h-26zM613.9 892.8h6l10 25h-26zM619.9 867.9h6l10 25h-26zM625.9 841.5h6l10 25h-26zM632 813.6h6l10 25h-26zM638 784.5h6l10 25h-26zM644.1 754.1h6l10 25h-26zM650.1 722.6h6l10 25h-26zM656.2 690.2h6l10 25h-26zM662.2 657h6l10 25h-26zM668.2 623.3h6l10 25h-26zM674.3 589.4h6l10 25h-26zM680.3 555.4h6l10 25h-26zM686.4 521.6h6l10 25h-26zM692.4 488.5h6l10 25h-26zM698.4 456.3h6l10 25h-26zM704.5 425.4h6l10 25h-26zM710.5 396.2h6l10 25h-26zM716.6 369.1h6l10 25h-26zM722.6 344.4h6l10 25h-26zM728.7 322.6h6l10 25h-26zM734.7 303.9h6l10 25h-26zM740.7 288.8h6l10 25h-26zM746.8 277.5h6l10 25h-26zM752.8 270.2h6l10 25h-26zM758.9 267.1h6l10 25h-26zM764.9 268.1h6l10 25h-26zM770.9 273.1h6l10 25h-26zM777 281.9h6l10 25h-26zM783 294.5h6l10 25h-26zM789.1 310.5h6l10 25h-26zM795.1 329.7h6l10 25h-26zM801.1 351.9h6l10 25h-26zM807.2 376.6h6l10 25h-26zM813.2 403.6h6l10 25h-26zM819.3 432.5h6l10 25h-26zM825.3 462.9h6l10 25h-26zM831.4 494.5h6l10 25h-26zM837.4 527h6l10 25h-26zM843.4 560h6l10 25h-26zM849.5 593.3h6l10 25h-26zM855.5 626.5h6l10 25h-26zM861.6 659.4h6l10 25h-26zM867.6 691.9h6l10 25h-26zM873.6 723.5h6l10 25h-26zM879.7 754.3h6l10 25h-26zM885.7 784h6l10 25h-26zM891.8 812.5h6l10 25h-26zM897.8 839.6h6l10 25h-26zM903.9 865.4h6l10 25h-26zM909.9 889.8h6l10 25h-26zM915.9 912.6h6l10 25h-26zM922 933.9h6l10 25h-26zM928 953.8h6l10 25h-26zM934.1 972.1h6l10 25h-26zM940.1 989h6l10 25h-26zM946.1 1004.5h6l10 25h-26zM952.2 1018.6h6l10 25h-26zM958.2 1031.4h6l10 25h-26zM964.3 1043h6l10 25h-26zM970.3 1053.5h6l10 25h-26zM976.4 1062.8h6l10 25h-26zM982.4 1071.2h6l10 25h-26zM988.4 1078.7h6l10 25h-26zM994.5 1085.4h6l10 25h-26zM1000.5 1091.2h6l10 25h-26zM1006.6 1096.4h6l10 25h-26zM1012.6 1101h6l10 25h-26zM1018.6 1105.1h6l10 25h-26zM1024.7 1108.6h6l10 25h-26zM1030.7 1111.7h6l10 25h-26zM1036.8 1114.4h6l10 25h-26zM1042.8 1116.8h6l10 25h-26zM1048.9 1118.8h6l10 25h-26zM1054.9 1120.7h6l10 25h-26zM1060.9 1122.3h6l10 25h-26zM1067 1123.7h6l10 25h-26zM1073 1124.9h6l10 25h-26zM1079.1 1126h6l10 25h-26zM1085.1 1127h6l10 25h-26zM1091.1 1127.8h6l10 25h-26zM1097.2 1128.6h6l10 25h-26zM1103.2 1129.3h6l10 25h-26zM1109.3 1130h6l10 25h-26zM1115.3 1130.5h6l10 25h-26zM1121.3 1131.1h6l10 25h-26zM1127.4 1131.6h6l10 25h-26zM1133.4 1132h6l10 25h-26zM1139.5 1132.4h6l10 25h-26zM1145.5 1132.8h6l10 25h-26zM1151.6 1133.2h6l10 25h-26zM1157.6 1133.5h6l10 25h-26zM1163.6 1133.9h6l10 25h-26zM1169.7 1134.2h6l10 25h-26zM1175.7 1134.5h6l10 25h-26zM1181.8 1134.8h6l10 25h-26zM1187.8 1135h6l10 25h-26zM1193.8 1135.3h6l10 25h-26zM1199.9 1135.5h6l10 25h-26zM1205.9 1135.8h6l10 25h-26zM1212 1136h6l10 25h-26zM1218 1136.2h6l10 25h-26zM1224.1 1136.4h6l10 25h-26zM1230.1 1136.6h6l10 25h-26zM1236.1 1136.8h6l10 25h-26zM1242.2 1137h6l10 25h-26zM1248.2 1137.2h6l10 25h-26zM1254.3 1137.4h6l10 25h-26zM1260.3 1137.6h6l10 25h-26zM1266.3 1137.7h6l10 25h-26zM1272.4 1137.9h6l10 25h-26zM1278.4 1138h6l10 25h-26zM1284.5 1138.2h6l10 25h-26zM1290.5 1138.3h6l10 25h-26zM1296.6 1138.5h6l10 25h-26zM1302.6 1138.6h6l10 25h-26zM1308.6 1138.7h6l10 25h-26zM1314.7 1138.9h6l10 25h-26zM1320.7 1139h6l10 25h-26zM1326.8 1139.1h6l10 25h-26zM1332.8 1139.2h6l10 25h-26zM1338.8 1139.3h6l10 25h-26zM1344.9 1139.4h6l10 25h-26zM1350.9 1139.5h6l10 25h-26zM1357 1139.6h6l10 25h-26zM1363 1139.7h6l10 25h-26zM1369.1 1139.8h6l10 25h-26zM1375.1 1139.9h6l10 25h-26zM1381.1 1140h6l10 25h-26zM1387.2 1140.1h6l10 25h-26zM1393.2 1140.2h6l10 25h-26zM1399.3 1140.3h6l10 25h-26zM1405.3 1140.4h6l10 25h-26zM1411.3 1140.4h6l10 25h-26zM1417.4 1140.5h6l10 25h-26zM1423.4 1140.6h6l10 25h-26zM1429.5 1140.7h6l10 25h-26zM1435.5 1140.7h6l10 25h-26zM1441.5 1140.8h6l10 25h-26zM1447.6 1140.9h6l10 25h-26zM1453.6 1140.9h6l10 25h-26zM1459.7 1141h6l10 25h-26zM1465.7 1141.1h6l10 25h-26zM1471.8 1141.1h6l10 25h-26zM1477.8 1141.2h6l10 25h-26zM1483.8 1141.3h6l10 25h-26zM1489.9 1141.3h6l10 25h-26zM1495.9 1141.4h6l10 25h-26zM1502 1141.4h6l10 25h-26zM1508 1141.5h6l10 25h-26zM1514 1141.5h6l10 25h-26zM1520.1 1141.6h6l10 25h-26zM1526.1 1141.6h6l10 25h-26zM1532.2 1141.7h6l10 25h-26zM1538.2 1141.7h6l10 25h-26zM1544.3 1141.8h6l10 25h-26zM1550.3 1141.8h6l10 25h-26zM1556.3 1141.9h6l10 25h-26zM1562.4 1141.9h6l10 25h-26zM1568.4 1141.9h6l10 25h-26zM1574.5 1142h6l10 25h-26zM1580.5 1142h6l10 25h-26zM1586.5 1142.1h6l10 25h-26zM1592.6 1142.1h6l10 25h-26zM1598.6 1142.1h6l10 25h-26zM1604.7 1142.2h6l10 25h-26zM1610.7 1142.2h6l10 25h-26zM1616.8 1142.2h6l10 25h-26zM1622.8 1142.3h6l10 25h-26zM1628.8 1142.3h6l10 25h-26zM1634.9 1142.3h6l10 25h-26zM1640.9 1142.4h6l10 25h-26z"/>
<path fill="#f0f" d="M132.6 1169.9h26l-10 25h-6zM138.7 1169.9h26l-10 25h-6zM144.7 1169.9h26l-10 25h-6zM150.8 1169.8h26l-10 25h-6zM156.8 1169.8h26l-10 25h-6zM162.8 1169.7h26l-10 25h-6zM168.9 1169.7h26l-10 25h-6zM174.9 1169.7h26l-10 25h-6zM181 1169.6h26l-10 25h-6zM187 1169.6h26l-10 25h-6zM193 1169.5h26l-10 25h-6zM199.1 1169.5h26l-10 25h-6zM205.1 1169.4h26l-10 25h-6zM211.2 1169.4h26l-10 25h-6zM217.2 1169.3h26l-10 25h-6zM223.2 1169.3h26l-10 25h-6zM229.3 1169.2h26l-10 25h-6zM235.3 1169.2h26l-10 25h-6zM241.4 1169.1h26l-10 25h-6zM247.4 1169.1h26l-10 25h-6zM253.5 1169h26l-10 25h-6zM259.5 1169h26l-10 25h-6zM265.5 1168.9h26l-10 25h-6zM271.6 1168.8h26l-10 25h-6zM277.6 1168.8h26l-10 25h-6zM283.7 1168.7h26l-10 25h-6zM289.7 1168.6h26l-10 25h-6zM295.7 1168.6h26l-10 25h-6zM301.8 1168.5h26l-10 25h-6zM307.8 1168.4h26l-10 25h-6zM313.9 1168.3h26l-10 25h-6zM319.9 1168.3h26l-10 25h-6zM326 1168.2h26l-10 25h-6zM332 1168.1h26l-10 25h-6zM338 1168h26l-10 25h-6zM344.1 1167.9h26l-10 25h-6zM350.1 1167.8h26l-10 25h-6zM356.2 1167.8h26l-10 25h-6zM362.2 1167.7h26l-10 25h-6zM368.2 1167.6h26l-10 25h-6zM374.3 1167.5h26l-10 25h-6zM380.3 1167.4h26l-10 25h-6zM386.4 1167.3h26l-10 25h-6zM392.4 1167.1h26l-10 25h-6zM398.5 1167h26l-10 25h-6zM404.5 1166.9h26l-10 25h-6zM410.5 1166.8h26l-10 25h-6zM416.6 1166.7h26l-10 25h-6zM422.6 1166.5h26l-10 25h-6zM428.7 1166.4h26l-10 25h-6zM434.7 1166.2h26l-10 25h-6zM440.7 1166.1h26l-10 25h-6zM446.8 1165.9h26l-10 25h-6zM452.8 1165.8h26l-10 25h-6zM458.9 1165.6h26l-10 25h-6zM464.9 1165.4h26l-10 25h-6zM470.9 1165.3h26l-10 25h-6zM477 1165.1h26l-10 25h-6zM483 1164.9h26l-10 25h-6zM489.1 1164.7h26l-10 25h-6zM495.1 1164.4h26l-10 25h-6zM501.2 1164.2h26l-10 25h-6zM507.2 1164h26l-10 25h-6zM513.2 1163.7h26l-10 25h-6zM519.3 1163.4h26l-10 25h-6zM525.3 1163.1h26l-10 25h-6zM531.4 1162.8h26l-10 25h-6zM537.4 1162.5h26l-10 25h-6zM543.4 1162.1h26l-10 25h-6zM549.5 1161.7h26l-10 25h-6zM555.5 1161.3h26l-10 25h-6zM561.6 1160.8h26l-10 25h-6zM567.6 1160.3h26l-10 25h-6zM573.7 1159.7h26l-10 25h-6zM579.7 1159.1h26l-10 25h-6zM585.7 1158.4h26l-10 25h-6zM591.8 1157.6h26l-10 25h-6zM597.8 1156.7h26l-10 25h-6zM603.9 1155.8h26l-10 25h-6zM609.9 1154.7h26l-10 25h-6zM615.9 1153.4h26l-10 25h-6zM622 1152h26l-10 25h-6zM628 1150.5h26l-10 25h-6zM634.1 1148.7h26l-10 25h-6zM640.1 1146.8h26l-10 25h-6zM646.2 1144.5h26l-10 25h-6zM652.2 1142h26l-10 25h-6zM658.2 1139.2h26l-10 25h-6zM664.3 1136.1h26l-10 25h-6zM670.3 1132.6h26l-10 25h-6zM676.4 1128.7h26l-10 25h-6zM682.4 1124.3h26l-10 25h-6zM688.4 1119.5h26l-10 25h-6zM694.5 1114.2h26l-10 25h-6zM700.5 1108.3h26l-10 25h-6zM706.6 1101.8h26l-10 25h-6zM712.6 1094.7h26l-10 25h-6zM718.7 1087h26l-10 25h-6zM724.7 1078.5h26l-10 25h-6zM730.7 1069.4h26l-10 25h-6zM736.8 1059.6h26l-10 25h-6zM742.8 1049h26l-10 25h-6zM748.9 1037.7h26l-10 25h-6zM754.9 1025.6h26l-10 25h-6zM760.9 1012.9h26l-10 25h-6zM767 999.4h26l-10 25h-6zM773 985.2h26l-10 25h-6zM779.1 970.4h26l-10 25h-6zM785.1 955h26l-10 25h-6zM791.1 939.1h26l-10 25h-6zM797.2 922.7h26l-10 25h-6zM803.2 905.9h26l-10 25h-6zM809.3 888.9h26l-10 25h-6zM815.3 871.7h26l-10 25h-6zM821.4 854.4h26l-10 25h-6zM827.4 837.2h26l-10 25h-6zM833.4 820.3h26l-10 25h-6zM839.5 803.7h26l-10 25h-6zM845.5 787.6h26l-10 25h-6zM851.6 772.3h26l-10 25h-6zM857.6 757.8h26l-10 25h-6zM863.6 744.3h26l-10 25h-6zM869.7 732.1h26l-10 25h-6zM875.7 721.3h26l-10 25h-6zM881.8 711.9h26l-10 25h-6zM887.8 704.3h26l-10 25h-6zM893.9 698.5h26l-10 25h-6zM899.9 694.5h26l-10 25h-6zM905.9 692.5h26l-10 25h-6zM912 692.6h26l-10 25h-6zM918 694.8h26l-10 25h-6zM924.1 699.1h26l-10 25h-6zM930.1 705.4h26l-10 25h-6zM936.1 713.6h26l-10 25h-6zM942.2 723.5h26l-10 25h-6zM948.2 735h26l-10 25h-6zM954.3 747.9h26l-10 25h-6zM960.3 761.9h26l-10 25h-6zM966.4 777h26l-10 25h-6zM972.4 792.8h26l-10 25h-6zM978.4 809.1h26l-10 25h-6zM984.5 826h26l-10 25h-6zM990.5 843h26l-10 25h-6zM996.6 860.2h26l-10 25h-6zM1002.6 877.3h26l-10 25h-6zM1008.6 894.2h26l-10 25h-6zM1014.7 910.8h26l-10 25h-6zM1020.7 927h26l-10 25h-6zM1026.8 942.8h26l-10 25h-6zM1032.8 957.9h26l-10 25h-6zM1038.9 972.5h26l-10 25h-6zM1044.9 986.4h26l-10 25h-6zM1050.9 999.6h26l-10 25h-6zM1057 1012h26l-10 25h-6zM1063 1023.7h26l-10 25h-6zM1069.1 1034.6h26l-10 25h-6zM1075.1 1044.8h26l-10 25h-6zM1081.1 1054.2h26l-10 25h-6zM1087.2 1062.9h26l-10 25h-6zM1093.2 1070.9h26l-10 25h-6zM1099.3 1078.3h26l-10 25h-6zM1105.3 1084.9h26l-10 25h-6zM1111.3 1091h26l-10 25h-6zM1117.4 1096.5h26l-10 25h-6zM1123.4 1101.4h26l-10 25h-6zM1129.5 1105.9h26l-10 25h-6zM1135.5 1109.9h26l-10 25h-6zM1141.6 1113.5h26l-10 25h-6zM1147.6 1116.7h26l-10 25h-6zM1153.6 1119.5h26l-10 25h-6zM1159.7 1122h26l-10 25h-6zM1165.7 1124.3h26l-10 25h-6zM1171.8 1126.3h26l-10 25h-6zM1177.8 1128h26l-10 25h-6zM1183.8 1129.6h26l-10 25h-6zM1189.9 1131h26l-10 25h-6zM1195.9 1132.3h26l-10 25h-6zM1202 1133.4h26l-10 25h-6zM1208 1134.3h26l-10 25h-6zM1214.1 1135.2h26l-10 25h-6zM1220.1 1136h26l-10 25h-6zM1226.1 1136.7h26l-10 25h-6zM1232.2 1137.4h26l-10 25h-6zM1238.2 1138h26l-10 25h-6zM1244.3 1138.5h26l-10 25h-6zM1250.3 1139h26l-10 25h-6zM1256.3 1139.4h26l-10 25h-6zM1262.4 1139.8h26l-10 25h-6zM1268.4 1140.2h26l-10 25h-6zM1274.5 1140.6h26l-10 25h-6zM1280.5 1140.9h26l-10 25h-6zM1286.6 1141.2h26l-10 25h-6zM1292.6 1141.5h26l-10 25h-6zM1298.6 1141.8h26l-10 25h-6zM1304.7 1142.1h26l-10 25h-6zM1310.7 1142.3h26l-10 25h-6zM1316.8 1142.6h26l-10 25h-6zM1322.8 1142.8h26l-10 25h-6zM1328.8 1143h26l-10 25h-6zM1334.9 1143.2h26l-10 25h-6zM1340.9 1143.4h26l-10 25h-6zM1347 1143.6h26l-10 25h-6zM1353 1143.8h26l-10 25h-6zM1359.1 1144h26l-10 25h-6zM1365.1 1144.2h26l-10 25h-6zM1371.1 1144.3h26l-10 25h-6zM1377.2 1144.5h26l-10 25h-6zM1383.2 1144.7h26l-10 25h-6zM1389.3 1144.8h26l-10 25h-6zM1395.3 1144.9h26l-10 25h-6zM1401.3 1145.1h26l-10 25h-6zM1407.4 1145.2h26l-10 25h-6zM1413.4 1145.3h26l-10 25h-6zM1419.5 1145.5h26l-10 25h-6zM1425.5 1145.6h26l-10 25h-6zM1431.5 1145.7h26l-10 25h-6zM1437.6 1145.8h26l-10 25h-6zM1443.6 1145.9h26l-10 25h-6zM1449.7 1146h26l-10 25h-6zM1455.7 1146.1h26l-10 25h-6zM1461.8 1146.2h26l-10 25h-6zM1467.8 1146.3h26l-10 25h-6zM1473.8 1146.4h26l-10 25h-6zM1479.9 1146.5h26l-10 25h-6zM1485.9 1146.6h26l-10 25h-6zM1492 1146.7h26l-10 25h-6zM1498 1146.8h26l-10 25h-6zM1504 1146.8h26l-10 25h-6zM1510.1 1146.9h26l-10 25h-6zM1516.1 1147h26l-10 25h-6zM1522.2 1147.1h26l-10 25h-6zM1528.2 1147.1h26l-10 25h-6zM1534.3 1147.2h26l-10 25h-6zM1540.3 1147.3h26l-10 25h-6zM1546.3 1147.3h26l-10 25h-6zM1552.4 1147.4h26l-10 25h-6zM1558.4 1147.5h26l-10 25h-6zM1564.5 1147.5h26l-10 25h-6zM1570.5 1147.6h26l-10 25h-6zM1576.5 1147.6h26l-10 25h-6zM1582.6 1147.7h26l-10 25h-6zM1588.6 1147.7h26l-10 25h-6zM1594.7 1147.8h26l-10 25h-6zM1600.7 1147.8h26l-10 25h-6zM1606.8 1147.9h26l-10 25h-6zM1612.8 1147.9h26l-10 25h-6zM1618.8 1148h26l-10 25h-6zM1624.9 1148h26l-10 25h-6zM1630.9 1148.1h26l-10 25h-6z"/>
</g></g>
<g stroke="#000" fill="none">
<line x1="171.1" y1="20" x2="171.1" y2="1222" stroke-width="7.2"/>
<line x1="1620.6" y1="20" x2="1620.6" y2="1223" stroke-width="7.6"/>
<line x1="167.5" y1="24.3" x2="1624.4" y2="24.3" stroke-width="8.6"/>
<line x1="167.5" y1="1211.3" x2="1624.4" y2="1211.3" stroke-width="8.6"/>
<line x1="411.9" y1="1212" x2="411.9" y2="1234" stroke-width="6"/>
<line x1="653.5" y1="1212" x2="653.5" y2="1223" stroke-width="6"/>
<line x1="896.1" y1="1212" x2="896.1" y2="1234" stroke-width="6"/>
<line x1="1137" y1="1212" x2="1137" y2="1223" stroke-width="6"/>
<line x1="1379.5" y1="1212" x2="1379.5" y2="1234" stroke-width="6"/>
</g>
<text transform="translate(358.79 1304.60) scale(0.8950 1)" font-family="'Liberation Sans', sans-serif" font-size="71.50" fill="#000">528</text>
<text transform="translate(843.99 1304.60) scale(0.8950 1)" font-family="'Liberation Sans', sans-serif" font-size="71.50" fill="#000">532</text>
<text transform="translate(1326.39 1304.60) scale(0.8950 1)" font-family="'Liberation Sans', sans-serif" font-size="71.50" fill="#000">536</text>
<text transform="translate(558.86 1429.10) scale(0.9110 1)" font-family="'Liberation Sans', sans-serif" font-size="77.50" font-weight="bold" fill="#000" stroke="#fff" stroke-width="0.6">Binding Energy (eV)</text>
<text transform="translate(95.20 932.00) rotate(-90) scale(1.0440 1)" font-family="'Liberation Sans', sans-serif" font-size="89.00" font-weight="bold" fill="#000" stroke="#fff" stroke-width="0.6">Intensity (a.u.)</text>
<rect x="1105" y="168.7" width="136" height="4.2" fill="#a0a0a0"/>
<rect x="1105" y="249.7" width="136" height="4.2" fill="#ffb4b4"/>
<rect x="1105" y="331.7" width="136" height="4.2" fill="#b8b8ff"/>
<rect x="1105" y="427.1" width="136" height="4.2" fill="#ffb4ff"/>
<rect x="1162.5" y="160" width="21" height="22" fill="#000"/>
<ellipse cx="1173" cy="251" rx="11" ry="12" fill="#f00"/>
<path d="M1170 318h6l10 25h-26z" fill="#00f"/>
<path d="M1160 420h26l-10 25h-6z" fill="#f0f"/>
<text transform="translate(1259.03 193.00) scale(0.8510 1)" font-family="'Liberation Sans', sans-serif" font-size="70.10" fill="#000">Raw data</text>
<text transform="translate(1259.40 275.80) scale(0.8850 1)" font-family="'Liberation Sans', sans-serif" font-size="70.10" fill="#000">Sum</text>
<text transform="translate(1257.72 356.60) scale(0.8800 1)" font-family="'Liberation Sans', sans-serif" font-size="70.10" fill="#000">O</text>
<text x="1303.06" y="374.10" font-family="'Liberation Sans', sans-serif" font-size="44.60" letter-spacing="0.00" fill="#000" stroke="#000" stroke-width="0.6">I</text>
<text transform="translate(1257.72 452.60) scale(0.8800 1)" font-family="'Liberation Sans', sans-serif" font-size="70.10" fill="#000">O</text>
<text x="1303.06" y="469.50" font-family="'Liberation Sans', sans-serif" font-size="44.60" letter-spacing="-0.50" fill="#000" stroke="#000" stroke-width="0.6">II</text>
<text transform="translate(999.85 585.30) scale(0.8800 1)" font-family="'Liberation Sans', sans-serif" font-size="67.00" fill="#000">O</text>
<text x="1046.56" y="602.50" font-family="'Liberation Sans', sans-serif" font-size="46.00" letter-spacing="-0.50" fill="#000" stroke="#000" stroke-width="0.6">II</text>
<text transform="translate(1069.50 585.30) scale(1.0000 1)" font-family="'Liberation Sans', sans-serif" font-size="67.00" fill="#000">/</text>
<text transform="translate(1074.17 582.60) scale(1.1500 1)" font-family="'Liberation Sans', 'Noto Sans CJK SC', sans-serif" font-size="58.80" fill="#8a8a8a">（</text>
<text transform="translate(1148.55 585.30) scale(0.8800 1)" font-family="'Liberation Sans', sans-serif" font-size="67.00" fill="#000">O</text>
<text x="1194.26" y="602.50" font-family="'Liberation Sans', sans-serif" font-size="46.00" letter-spacing="-0.50" fill="#000" stroke="#000" stroke-width="0.6">II</text>
<text transform="translate(1219.48 585.30) scale(1.0500 1)" font-family="'Liberation Sans', sans-serif" font-size="67.00" fill="#000">+</text>
<text transform="translate(1255.05 585.30) scale(0.8800 1)" font-family="'Liberation Sans', sans-serif" font-size="67.00" fill="#000">O</text>
<text x="1300.86" y="602.50" font-family="'Liberation Sans', sans-serif" font-size="46.00" letter-spacing="0.00" fill="#000" stroke="#000" stroke-width="0.6">I</text>
<text transform="translate(1319.12 582.60) scale(1.1500 1)" font-family="'Liberation Sans', 'Noto Sans CJK SC', sans-serif" font-size="58.80" fill="#8a8a8a">）</text>
<text transform="translate(1372.42 585.30) scale(0.9200 1)" font-family="'Liberation Sans', sans-serif" font-size="67.00" fill="#000">=</text>
<text transform="translate(1427.22 585.30) scale(0.8890 1)" font-family="'Liberation Sans', sans-serif" font-size="67.00" fill="#000">34.6%</text>
<text transform="translate(676.16 769.20) scale(0.8560 1)" font-family="'Liberation Sans', sans-serif" font-size="78.00" fill="#000" stroke="#fff" stroke-width="1.1">O</text>
<text x="729.30" y="791.00" font-family="'Liberation Sans', sans-serif" font-size="55.00" letter-spacing="0.00" fill="#000" stroke="#000" stroke-width="0.6">I</text>
<text transform="translate(923.96 884.80) scale(0.8560 1)" font-family="'Liberation Sans', sans-serif" font-size="78.00" fill="#000" stroke="#fff" stroke-width="1.1">O</text>
<text x="977.16" y="905.20" font-family="'Liberation Sans', sans-serif" font-size="56.00" letter-spacing="-3.50" fill="#000" stroke="#000" stroke-width="0.6">II</text>
</g>
</svg></body></html>
